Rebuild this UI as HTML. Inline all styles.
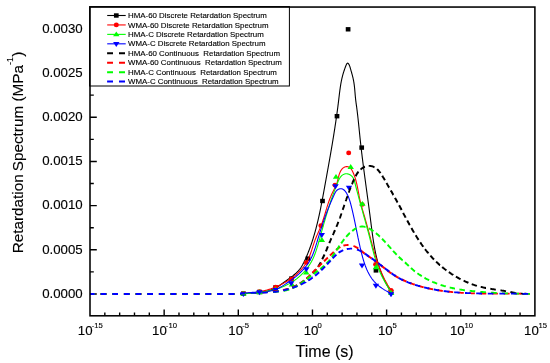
<!DOCTYPE html>
<html><head><meta charset="utf-8"><title>Retardation Spectrum</title>
<style>html,body{margin:0;padding:0;background:#fff}svg{display:block}text{font-family:"Liberation Sans",Arial,sans-serif;fill:#000;stroke:#000;stroke-width:0.12px}</style>
</head><body>
<svg width="550" height="363" viewBox="0 0 550 363">
<rect width="550" height="363" fill="#fff"/>
<defs><clipPath id="c"><rect x="90.00" y="7.05" width="444.90" height="308.75"/></clipPath></defs>
<path d="M104.83 315.80 V312.60 M119.66 315.80 V312.60 M134.49 315.80 V312.60 M149.32 315.80 V312.60 M164.15 315.80 V309.50 M178.98 315.80 V312.60 M193.81 315.80 V312.60 M208.64 315.80 V312.60 M223.47 315.80 V312.60 M238.30 315.80 V309.50 M253.13 315.80 V312.60 M267.96 315.80 V312.60 M282.79 315.80 V312.60 M297.62 315.80 V312.60 M312.45 315.80 V309.50 M327.28 315.80 V312.60 M342.11 315.80 V312.60 M356.94 315.80 V312.60 M371.77 315.80 V312.60 M386.60 315.80 V309.50 M401.43 315.80 V312.60 M416.26 315.80 V312.60 M431.09 315.80 V312.60 M445.92 315.80 V312.60 M460.75 315.80 V309.50 M475.58 315.80 V312.60 M490.41 315.80 V312.60 M505.24 315.80 V312.60 M520.07 315.80 V312.60 M90.00 294.00 H96.80 M90.00 271.91 H93.80 M90.00 249.81 H96.80 M90.00 227.72 H93.80 M90.00 205.63 H96.80 M90.00 183.54 H93.80 M90.00 161.44 H96.80 M90.00 139.35 H93.80 M90.00 117.26 H96.80 M90.00 95.17 H93.80 M90.00 73.07 H96.80 M90.00 50.98 H93.80 M90.00 28.89 H96.80" stroke="#000" stroke-width="1.4" fill="none"/>
<g clip-path="url(#c)">
<path d="M243.40 293.60 L244.21 293.51 L245.02 293.42 L245.84 293.34 L246.67 293.27 L247.50 293.19 L248.34 293.13 L249.19 293.06 L250.04 293.00 L250.89 292.94 L251.75 292.87 L252.61 292.81 L253.47 292.75 L254.34 292.68 L255.21 292.61 L256.08 292.54 L256.94 292.46 L257.81 292.38 L258.68 292.29 L259.55 292.20 L260.42 292.10 L261.28 291.99 L262.15 291.87 L263.01 291.74 L263.87 291.60 L264.72 291.45 L265.57 291.29 L266.41 291.12 L267.25 290.93 L268.08 290.73 L268.91 290.51 L269.73 290.27 L270.54 290.02 L271.35 289.76 L272.14 289.47 L272.93 289.17 L273.71 288.84 L274.48 288.50 L275.24 288.13 L275.98 287.74 L276.72 287.33 L277.45 286.90 L278.17 286.46 L278.88 286.00 L279.59 285.52 L280.29 285.04 L280.98 284.54 L281.68 284.04 L282.37 283.53 L283.06 283.01 L283.75 282.50 L284.44 281.98 L285.13 281.47 L285.83 280.96 L286.53 280.45 L287.23 279.94 L287.92 279.44 L288.62 278.93 L289.32 278.43 L290.01 277.92 L290.71 277.41 L291.39 276.90 L292.07 276.38 L292.75 275.86 L293.41 275.33 L294.07 274.79 L294.72 274.25 L295.36 273.69 L295.99 273.13 L296.60 272.56 L297.21 271.97 L297.79 271.38 L298.37 270.77 L298.92 270.14 L299.47 269.51 L299.99 268.85 L300.49 268.18 L300.98 267.49 L301.44 266.79 L301.89 266.07 L302.32 265.34 L302.74 264.59 L303.14 263.83 L303.54 263.07 L303.92 262.30 L304.29 261.52 L304.66 260.74 L305.02 259.95 L305.37 259.17 L305.72 258.38 L306.07 257.59 L306.41 256.80 L306.75 256.01 L307.08 255.22 L307.41 254.42 L307.73 253.63 L308.05 252.83 L308.37 252.04 L308.68 251.24 L308.99 250.44 L309.29 249.64 L309.59 248.84 L309.89 248.04 L310.18 247.23 L310.47 246.43 L310.76 245.63 L311.04 244.82 L311.31 244.01 L311.59 243.20 L311.86 242.40 L312.13 241.59 L312.39 240.78 L312.65 239.96 L312.91 239.15 L313.16 238.34 L313.41 237.52 L313.66 236.71 L313.90 235.89 L314.14 235.08 L314.38 234.26 L314.62 233.44 L314.85 232.62 L315.08 231.80 L315.31 230.98 L315.53 230.16 L315.75 229.34 L315.97 228.52 L316.18 227.69 L316.40 226.87 L316.61 226.05 L316.82 225.22 L317.02 224.40 L317.23 223.57 L317.43 222.74 L317.63 221.91 L317.83 221.09 L318.02 220.26 L318.21 219.43 L318.40 218.60 L318.59 217.77 L318.78 216.94 L318.97 216.11 L319.15 215.27 L319.33 214.44 L319.51 213.61 L319.69 212.78 L319.87 211.94 L320.04 211.11 L320.21 210.27 L320.39 209.44 L320.56 208.60 L320.73 207.77 L320.89 206.93 L321.06 206.10 L321.23 205.26 L321.39 204.42 L321.55 203.59 L321.72 202.75 L321.88 201.91 L322.04 201.07 L322.20 200.24 L322.36 199.40 L322.51 198.56 L322.67 197.72 L322.83 196.88 L322.98 196.04 L323.14 195.20 L323.29 194.36 L323.45 193.53 L323.60 192.69 L323.75 191.85 L323.91 191.01 L324.06 190.17 L324.21 189.33 L324.36 188.49 L324.52 187.65 L324.67 186.81 L324.82 185.97 L324.97 185.13 L325.13 184.29 L325.28 183.45 L325.43 182.61 L325.58 181.77 L325.74 180.93 L325.89 180.09 L326.04 179.25 L326.19 178.41 L326.34 177.57 L326.50 176.73 L326.65 175.89 L326.80 175.05 L326.95 174.21 L327.10 173.37 L327.25 172.53 L327.41 171.69 L327.56 170.85 L327.71 170.01 L327.86 169.17 L328.01 168.33 L328.16 167.50 L328.31 166.66 L328.46 165.82 L328.61 164.98 L328.76 164.14 L328.91 163.30 L329.06 162.46 L329.21 161.62 L329.36 160.78 L329.51 159.94 L329.65 159.10 L329.80 158.26 L329.95 157.42 L330.10 156.58 L330.24 155.74 L330.39 154.89 L330.54 154.05 L330.68 153.21 L330.83 152.37 L330.97 151.53 L331.12 150.69 L331.26 149.85 L331.40 149.01 L331.55 148.17 L331.69 147.33 L331.83 146.49 L331.98 145.65 L332.12 144.81 L332.26 143.97 L332.40 143.12 L332.54 142.28 L332.68 141.44 L332.82 140.60 L332.96 139.76 L333.09 138.92 L333.23 138.08 L333.37 137.23 L333.51 136.39 L333.64 135.55 L333.78 134.71 L333.91 133.87 L334.04 133.02 L334.18 132.18 L334.31 131.34 L334.44 130.50 L334.57 129.65 L334.70 128.81 L334.84 127.97 L334.96 127.13 L335.09 126.28 L335.22 125.44 L335.35 124.60 L335.47 123.75 L335.60 122.91 L335.73 122.07 L335.85 121.22 L335.97 120.38 L336.10 119.53 L336.22 118.69 L336.34 117.85 L336.46 117.00 L336.58 116.16 L336.70 115.31 L336.82 114.47 L336.93 113.62 L337.05 112.78 L337.16 111.93 L337.28 111.09 L337.39 110.24 L337.50 109.40 L337.62 108.55 L337.73 107.70 L337.84 106.86 L337.95 106.01 L338.05 105.17 L338.16 104.32 L338.27 103.47 L338.37 102.63 L338.48 101.78 L338.58 100.93 L338.68 100.08 L338.78 99.24 L338.88 98.39 L338.98 97.54 L339.08 96.69 L339.18 95.85 L339.28 95.00 L339.38 94.15 L339.49 93.30 L339.59 92.46 L339.70 91.61 L339.81 90.76 L339.92 89.92 L340.04 89.07 L340.16 88.23 L340.28 87.39 L340.40 86.54 L340.54 85.70 L340.67 84.86 L340.81 84.02 L340.96 83.18 L341.11 82.34 L341.27 81.51 L341.44 80.67 L341.61 79.84 L341.79 79.00 L341.98 78.17 L342.17 77.34 L342.38 76.51 L342.59 75.68 L342.81 74.86 L343.04 74.04 L343.28 73.21 L343.54 72.39 L343.80 71.57 L344.06 70.76 L344.34 69.95 L344.62 69.14 L344.91 68.35 L345.20 67.55 L345.49 66.77 L345.78 66.00 L346.09 65.21 L346.45 64.39 L346.92 63.57 L347.58 63.08 L348.19 63.41 L348.69 64.10 L349.11 64.83 L349.47 65.60 L349.79 66.40 L350.06 67.21 L350.31 68.04 L350.54 68.87 L350.77 69.70 L351.01 70.53 L351.24 71.35 L351.48 72.16 L351.71 72.98 L351.94 73.80 L352.16 74.62 L352.38 75.43 L352.59 76.26 L352.80 77.08 L352.99 77.91 L353.17 78.75 L353.35 79.58 L353.52 80.42 L353.67 81.27 L353.82 82.11 L353.96 82.96 L354.08 83.80 L354.20 84.65 L354.31 85.50 L354.41 86.34 L354.50 87.19 L354.59 88.04 L354.68 88.89 L354.75 89.74 L354.83 90.59 L354.90 91.44 L354.98 92.29 L355.05 93.14 L355.12 93.99 L355.19 94.84 L355.26 95.69 L355.34 96.54 L355.42 97.38 L355.51 98.23 L355.59 99.08 L355.69 99.93 L355.79 100.77 L355.90 101.62 L356.01 102.46 L356.13 103.31 L356.24 104.15 L356.36 105.00 L356.48 105.84 L356.60 106.69 L356.71 107.53 L356.82 108.38 L356.93 109.22 L357.04 110.07 L357.15 110.92 L357.25 111.77 L357.35 112.61 L357.45 113.46 L357.55 114.31 L357.65 115.16 L357.75 116.00 L357.85 116.85 L357.94 117.70 L358.04 118.55 L358.13 119.40 L358.22 120.25 L358.31 121.10 L358.40 121.95 L358.49 122.80 L358.58 123.65 L358.67 124.50 L358.76 125.35 L358.84 126.20 L358.93 127.05 L359.02 127.90 L359.10 128.75 L359.19 129.60 L359.27 130.45 L359.36 131.30 L359.45 132.14 L359.53 132.99 L359.62 133.84 L359.71 134.69 L359.79 135.54 L359.88 136.39 L359.97 137.24 L360.06 138.09 L360.15 138.94 L360.24 139.79 L360.33 140.63 L360.42 141.48 L360.51 142.33 L360.60 143.18 L360.70 144.03 L360.79 144.87 L360.89 145.72 L360.98 146.57 L361.08 147.41 L361.18 148.26 L361.27 149.11 L361.37 149.95 L361.47 150.80 L361.57 151.65 L361.67 152.49 L361.77 153.34 L361.88 154.18 L361.98 155.03 L362.08 155.87 L362.18 156.72 L362.29 157.56 L362.39 158.41 L362.50 159.25 L362.60 160.10 L362.71 160.94 L362.81 161.79 L362.92 162.63 L363.03 163.48 L363.14 164.32 L363.25 165.16 L363.35 166.01 L363.46 166.85 L363.57 167.70 L363.68 168.54 L363.79 169.39 L363.90 170.23 L364.01 171.07 L364.12 171.92 L364.24 172.76 L364.35 173.61 L364.46 174.45 L364.57 175.29 L364.68 176.14 L364.80 176.98 L364.91 177.82 L365.02 178.67 L365.14 179.51 L365.25 180.36 L365.37 181.20 L365.48 182.04 L365.59 182.89 L365.71 183.73 L365.82 184.58 L365.94 185.42 L366.05 186.26 L366.17 187.11 L366.28 187.95 L366.40 188.80 L366.51 189.64 L366.63 190.49 L366.74 191.33 L366.86 192.18 L366.97 193.02 L367.09 193.86 L367.20 194.71 L367.32 195.55 L367.43 196.40 L367.55 197.25 L367.66 198.09 L367.78 198.94 L367.89 199.78 L368.01 200.63 L368.12 201.47 L368.24 202.32 L368.35 203.17 L368.46 204.01 L368.58 204.86 L368.69 205.71 L368.80 206.55 L368.92 207.40 L369.03 208.25 L369.14 209.09 L369.26 209.94 L369.37 210.79 L369.48 211.64 L369.59 212.49 L369.70 213.33 L369.82 214.18 L369.93 215.03 L370.04 215.88 L370.15 216.73 L370.26 217.58 L370.37 218.43 L370.48 219.28 L370.58 220.13 L370.69 220.98 L370.80 221.83 L370.91 222.68 L371.02 223.53 L371.12 224.38 L371.23 225.24 L371.34 226.09 L371.45 226.94 L371.56 227.79 L371.67 228.64 L371.78 229.49 L371.89 230.34 L372.00 231.19 L372.11 232.04 L372.23 232.89 L372.34 233.74 L372.46 234.59 L372.58 235.44 L372.70 236.29 L372.82 237.14 L372.94 237.98 L373.07 238.83 L373.19 239.68 L373.32 240.52 L373.45 241.37 L373.59 242.21 L373.72 243.05 L373.86 243.90 L374.00 244.74 L374.15 245.58 L374.30 246.42 L374.45 247.26 L374.60 248.10 L374.76 248.93 L374.92 249.77 L375.08 250.60 L375.25 251.44 L375.42 252.27 L375.59 253.10 L375.77 253.93 L375.95 254.76 L376.14 255.59 L376.33 256.41 L376.52 257.24 L376.72 258.06 L376.92 258.88 L377.13 259.71 L377.34 260.52 L377.56 261.34 L377.78 262.16 L378.01 262.97 L378.24 263.78 L378.48 264.59 L378.73 265.40 L378.97 266.21 L379.23 267.01 L379.49 267.82 L379.76 268.62 L380.03 269.42 L380.31 270.21 L380.59 271.01 L380.88 271.80 L381.18 272.59 L381.48 273.38 L381.79 274.17 L382.11 274.95 L382.43 275.73 L382.76 276.51 L383.10 277.29 L383.44 278.07 L383.79 278.84 L384.15 279.61 L384.52 280.37 L384.89 281.14 L385.28 281.90 L385.67 282.66 L386.06 283.42 L386.47 284.17 L386.88 284.92 L387.30 285.67 L387.73 286.42 L388.17 287.16 L388.62 287.90 L389.08 288.64 L389.54 289.37 L390.01 290.10 L390.50 290.83 L390.99 291.56" stroke="#000000" stroke-width="1.1" fill="none" stroke-linejoin="round"/>
<rect x="241.05" y="291.40" width="4.70" height="4.40" fill="#000000"/><rect x="257.15" y="289.80" width="4.70" height="4.40" fill="#000000"/><rect x="273.25" y="285.30" width="4.70" height="4.40" fill="#000000"/><rect x="289.15" y="276.40" width="4.70" height="4.40" fill="#000000"/><rect x="305.65" y="256.40" width="4.70" height="4.40" fill="#000000"/><rect x="320.15" y="198.80" width="4.70" height="4.40" fill="#000000"/><rect x="334.65" y="114.00" width="4.70" height="4.40" fill="#000000"/><rect x="345.75" y="27.10" width="4.70" height="4.40" fill="#000000"/><rect x="359.35" y="145.40" width="4.70" height="4.40" fill="#000000"/><rect x="373.65" y="268.20" width="4.70" height="4.40" fill="#000000"/><rect x="388.65" y="289.60" width="4.70" height="4.40" fill="#000000"/>
<path d="M243.37 293.57 L243.91 293.55 L244.44 293.52 L244.97 293.50 L245.50 293.47 L246.03 293.44 L246.56 293.41 L247.09 293.37 L247.62 293.33 L248.15 293.29 L248.67 293.25 L249.20 293.21 L249.72 293.16 L250.25 293.11 L250.77 293.06 L251.30 293.00 L251.82 292.94 L252.34 292.88 L252.86 292.82 L253.38 292.75 L253.90 292.69 L254.42 292.62 L254.93 292.54 L255.45 292.47 L255.97 292.39 L256.48 292.31 L257.00 292.22 L257.51 292.14 L258.02 292.05 L258.53 291.96 L259.04 291.86 L259.55 291.76 L260.06 291.66 L260.57 291.56 L261.08 291.46 L261.58 291.35 L262.09 291.24 L262.59 291.12 L263.10 291.00 L263.60 290.88 L264.10 290.76 L264.60 290.64 L265.10 290.51 L265.60 290.38 L266.10 290.24 L266.60 290.11 L267.09 289.97 L267.59 289.82 L268.08 289.68 L268.58 289.53 L269.07 289.38 L269.56 289.22 L270.05 289.06 L270.54 288.90 L271.03 288.74 L271.51 288.57 L272.00 288.40 L272.49 288.23 L272.97 288.05 L273.45 287.87 L273.94 287.69 L274.42 287.50 L274.90 287.31 L275.38 287.12 L275.85 286.93 L276.33 286.73 L276.81 286.53 L277.28 286.32 L277.76 286.11 L278.23 285.90 L278.70 285.69 L279.17 285.47 L279.64 285.25 L280.11 285.02 L280.58 284.80 L281.04 284.57 L281.51 284.33 L281.97 284.09 L282.43 283.85 L282.89 283.61 L283.35 283.36 L283.81 283.11 L284.27 282.86 L284.73 282.60 L285.18 282.34 L285.64 282.07 L286.09 281.80 L286.54 281.53 L286.99 281.26 L287.44 280.98 L287.89 280.70 L288.34 280.41 L288.78 280.12 L289.22 279.83 L289.66 279.53 L290.10 279.24 L290.53 278.93 L290.97 278.63 L291.40 278.32 L291.83 278.01 L292.26 277.69 L292.68 277.37 L293.10 277.05 L293.52 276.72 L293.94 276.40 L294.35 276.06 L294.76 275.73 L295.17 275.39 L295.58 275.05 L295.98 274.70 L296.38 274.35 L296.77 274.00 L297.16 273.65 L297.55 273.29 L297.94 272.93 L298.32 272.56 L298.70 272.20 L299.07 271.83 L299.44 271.45 L299.81 271.07 L300.17 270.69 L300.53 270.31 L300.88 269.92 L301.23 269.53 L301.58 269.14 L301.92 268.75 L302.26 268.35 L302.59 267.94 L302.92 267.54 L303.24 267.13 L303.56 266.72 L303.87 266.30 L304.18 265.89 L304.49 265.46 L304.79 265.04 L305.08 264.61 L305.37 264.18 L305.65 263.75 L305.93 263.31 L306.20 262.88 L306.47 262.43 L306.73 261.99 L306.98 261.54 L307.23 261.09 L307.48 260.64 L307.71 260.18 L307.95 259.72 L308.17 259.26 L308.39 258.79 L308.61 258.32 L308.82 257.85 L309.03 257.38 L309.23 256.90 L309.43 256.43 L309.62 255.95 L309.81 255.47 L310.00 254.98 L310.18 254.50 L310.36 254.01 L310.54 253.52 L310.71 253.03 L310.88 252.54 L311.05 252.05 L311.22 251.56 L311.38 251.06 L311.55 250.57 L311.71 250.07 L311.87 249.58 L312.03 249.08 L312.19 248.58 L312.35 248.08 L312.51 247.59 L312.67 247.09 L312.83 246.59 L312.99 246.09 L313.15 245.59 L313.31 245.10 L313.47 244.60 L313.64 244.10 L313.80 243.61 L313.97 243.11 L314.14 242.62 L314.31 242.12 L314.48 241.63 L314.66 241.14 L314.83 240.65 L315.02 240.16 L315.20 239.67 L315.39 239.18 L315.58 238.70 L315.77 238.22 L315.97 237.73 L316.17 237.25 L316.37 236.77 L316.57 236.29 L316.78 235.81 L316.98 235.33 L317.19 234.85 L317.40 234.38 L317.61 233.90 L317.82 233.42 L318.03 232.94 L318.24 232.47 L318.45 231.99 L318.66 231.51 L318.87 231.04 L319.07 230.56 L319.28 230.08 L319.49 229.60 L319.69 229.12 L319.90 228.64 L320.10 228.16 L320.30 227.67 L320.50 227.19 L320.70 226.71 L320.89 226.22 L321.08 225.73 L321.27 225.24 L321.46 224.75 L321.64 224.26 L321.82 223.77 L322.00 223.27 L322.17 222.78 L322.35 222.28 L322.52 221.79 L322.69 221.29 L322.85 220.79 L323.02 220.29 L323.18 219.79 L323.35 219.29 L323.51 218.78 L323.67 218.28 L323.82 217.78 L323.98 217.27 L324.14 216.77 L324.29 216.27 L324.44 215.76 L324.60 215.26 L324.75 214.75 L324.90 214.24 L325.05 213.74 L325.20 213.23 L325.35 212.73 L325.50 212.22 L325.65 211.72 L325.80 211.21 L325.95 210.71 L326.10 210.20 L326.25 209.70 L326.40 209.19 L326.55 208.69 L326.71 208.19 L326.86 207.68 L327.01 207.18 L327.17 206.68 L327.32 206.18 L327.48 205.68 L327.63 205.18 L327.79 204.68 L327.95 204.18 L328.11 203.69 L328.28 203.19 L328.44 202.70 L328.61 202.21 L328.78 201.72 L328.95 201.23 L329.12 200.74 L329.29 200.25 L329.47 199.76 L329.65 199.28 L329.83 198.80 L330.01 198.31 L330.20 197.83 L330.39 197.36 L330.58 196.88 L330.78 196.41 L330.97 195.93 L331.18 195.46 L331.38 195.00 L331.59 194.53 L331.80 194.07 L332.01 193.60 L332.23 193.15 L332.45 192.69 L332.68 192.23 L332.91 191.78 L333.14 191.33 L333.37 190.88 L333.61 190.43 L333.84 189.98 L334.08 189.53 L334.31 189.08 L334.55 188.62 L334.78 188.17 L335.01 187.71 L335.23 187.25 L335.45 186.79 L335.67 186.32 L335.88 185.85 L336.08 185.37 L336.28 184.89 L336.47 184.40 L336.65 183.91 L336.82 183.41 L336.99 182.90 L337.14 182.39 L337.29 181.87 L337.43 181.34 L337.57 180.82 L337.70 180.29 L337.84 179.75 L337.97 179.22 L338.09 178.68 L338.22 178.15 L338.35 177.61 L338.49 177.08 L338.62 176.55 L338.76 176.02 L338.91 175.49 L339.06 174.97 L339.22 174.46 L339.39 173.95 L339.57 173.44 L339.75 172.95 L339.95 172.46 L340.17 171.98 L340.39 171.51 L340.64 171.05 L340.89 170.61 L341.17 170.17 L341.46 169.75 L341.77 169.34 L342.10 168.95 L342.45 168.57 L342.82 168.22 L343.20 167.90 L343.61 167.60 L344.03 167.35 L344.47 167.13 L344.92 166.95 L345.38 166.81 L345.85 166.71 L346.32 166.65 L346.80 166.64 L347.27 166.66 L347.73 166.73 L348.19 166.83 L348.63 166.98 L349.06 167.17 L349.47 167.41 L349.85 167.68 L350.22 167.99 L350.57 168.34 L350.91 168.72 L351.22 169.13 L351.52 169.56 L351.81 170.01 L352.09 170.49 L352.35 170.97 L352.60 171.48 L352.84 171.98 L353.07 172.50 L353.30 173.02 L353.52 173.54 L353.73 174.05 L353.93 174.57 L354.13 175.09 L354.32 175.60 L354.51 176.12 L354.69 176.63 L354.87 177.15 L355.04 177.66 L355.21 178.18 L355.37 178.69 L355.52 179.21 L355.67 179.72 L355.82 180.23 L355.96 180.75 L356.10 181.26 L356.23 181.77 L356.37 182.28 L356.49 182.79 L356.62 183.30 L356.74 183.82 L356.85 184.33 L356.97 184.84 L357.08 185.35 L357.19 185.86 L357.30 186.37 L357.40 186.87 L357.50 187.38 L357.60 187.89 L357.70 188.40 L357.80 188.91 L357.90 189.42 L357.99 189.92 L358.09 190.43 L358.18 190.94 L358.28 191.44 L358.37 191.95 L358.46 192.46 L358.55 192.96 L358.65 193.47 L358.74 193.97 L358.83 194.48 L358.93 194.98 L359.02 195.49 L359.12 195.99 L359.21 196.49 L359.31 197.00 L359.41 197.50 L359.51 198.00 L359.62 198.51 L359.72 199.01 L359.83 199.51 L359.94 200.01 L360.05 200.52 L360.17 201.02 L360.28 201.52 L360.40 202.02 L360.52 202.52 L360.65 203.02 L360.77 203.52 L360.90 204.02 L361.03 204.52 L361.16 205.02 L361.30 205.53 L361.43 206.03 L361.57 206.53 L361.71 207.03 L361.84 207.53 L361.99 208.03 L362.13 208.53 L362.27 209.03 L362.41 209.52 L362.56 210.02 L362.70 210.52 L362.85 211.02 L363.00 211.52 L363.15 212.02 L363.29 212.52 L363.44 213.02 L363.59 213.52 L363.74 214.03 L363.89 214.53 L364.04 215.03 L364.19 215.53 L364.34 216.03 L364.49 216.53 L364.64 217.03 L364.79 217.53 L364.94 218.03 L365.09 218.53 L365.23 219.04 L365.38 219.54 L365.53 220.04 L365.67 220.54 L365.82 221.05 L365.96 221.55 L366.10 222.05 L366.25 222.56 L366.39 223.06 L366.53 223.56 L366.67 224.07 L366.81 224.57 L366.95 225.08 L367.09 225.58 L367.23 226.09 L367.36 226.59 L367.50 227.10 L367.64 227.60 L367.78 228.11 L367.91 228.61 L368.05 229.12 L368.18 229.62 L368.32 230.13 L368.45 230.63 L368.59 231.14 L368.72 231.65 L368.86 232.15 L368.99 232.66 L369.12 233.16 L369.26 233.67 L369.39 234.18 L369.53 234.68 L369.66 235.19 L369.79 235.69 L369.93 236.20 L370.06 236.70 L370.19 237.21 L370.33 237.72 L370.46 238.22 L370.59 238.73 L370.73 239.23 L370.86 239.74 L371.00 240.24 L371.13 240.75 L371.27 241.25 L371.40 241.76 L371.54 242.26 L371.67 242.77 L371.81 243.27 L371.95 243.77 L372.08 244.28 L372.22 244.78 L372.36 245.29 L372.50 245.79 L372.63 246.29 L372.77 246.79 L372.91 247.30 L373.05 247.80 L373.20 248.30 L373.34 248.80 L373.48 249.30 L373.62 249.81 L373.77 250.31 L373.91 250.81 L374.06 251.31 L374.20 251.81 L374.35 252.31 L374.50 252.81 L374.65 253.30 L374.80 253.80 L374.95 254.30 L375.10 254.80 L375.25 255.30 L375.40 255.79 L375.56 256.29 L375.71 256.78 L375.87 257.28 L376.03 257.78 L376.19 258.27 L376.35 258.76 L376.51 259.26 L376.67 259.75 L376.84 260.24 L377.00 260.74 L377.17 261.23 L377.33 261.72 L377.50 262.21 L377.67 262.70 L377.84 263.19 L378.02 263.68 L378.19 264.17 L378.37 264.66 L378.55 265.14 L378.72 265.63 L378.90 266.12 L379.09 266.60 L379.27 267.09 L379.46 267.57 L379.64 268.05 L379.83 268.54 L380.02 269.02 L380.21 269.50 L380.41 269.98 L380.60 270.46 L380.80 270.94 L381.00 271.42 L381.20 271.90 L381.40 272.38 L381.61 272.85 L381.81 273.33 L382.02 273.80 L382.23 274.28 L382.44 274.75 L382.66 275.22 L382.88 275.70 L383.09 276.17 L383.32 276.64 L383.54 277.11 L383.76 277.58 L383.99 278.04 L384.22 278.51 L384.45 278.98 L384.69 279.44 L384.92 279.91 L385.16 280.37 L385.40 280.83 L385.65 281.30 L385.89 281.76 L386.14 282.22 L386.39 282.68 L386.64 283.13 L386.90 283.59 L387.16 284.05 L387.42 284.50 L387.68 284.96 L387.95 285.41 L388.21 285.86 L388.48 286.31 L388.76 286.76 L389.03 287.21 L389.31 287.66 L389.60 288.11 L389.88 288.55 L390.17 289.00 L390.46 289.44 L390.75 289.88 L391.05 290.33" stroke="#ff0000" stroke-width="1.1" fill="none" stroke-linejoin="round"/>
<ellipse cx="243.40" cy="293.60" rx="2.5" ry="2.35" fill="#ff0000"/><ellipse cx="259.50" cy="291.60" rx="2.5" ry="2.35" fill="#ff0000"/><ellipse cx="275.60" cy="287.20" rx="2.5" ry="2.35" fill="#ff0000"/><ellipse cx="291.40" cy="279.20" rx="2.5" ry="2.35" fill="#ff0000"/><ellipse cx="306.30" cy="262.50" rx="2.5" ry="2.35" fill="#ff0000"/><ellipse cx="320.90" cy="225.70" rx="2.5" ry="2.35" fill="#ff0000"/><ellipse cx="335.00" cy="185.20" rx="2.5" ry="2.35" fill="#ff0000"/><ellipse cx="348.70" cy="152.90" rx="2.5" ry="2.35" fill="#ff0000"/><ellipse cx="362.20" cy="204.50" rx="2.5" ry="2.35" fill="#ff0000"/><ellipse cx="375.60" cy="264.40" rx="2.5" ry="2.35" fill="#ff0000"/><ellipse cx="391.00" cy="290.30" rx="2.5" ry="2.35" fill="#ff0000"/>
<path d="M243.41 293.79 L243.91 293.75 L244.40 293.72 L244.90 293.68 L245.40 293.65 L245.90 293.61 L246.40 293.58 L246.90 293.54 L247.40 293.51 L247.91 293.47 L248.41 293.43 L248.91 293.40 L249.42 293.36 L249.92 293.32 L250.43 293.28 L250.94 293.24 L251.44 293.19 L251.95 293.15 L252.46 293.11 L252.96 293.06 L253.47 293.01 L253.98 292.97 L254.49 292.92 L255.00 292.87 L255.50 292.82 L256.01 292.77 L256.52 292.71 L257.03 292.66 L257.54 292.60 L258.05 292.54 L258.56 292.48 L259.07 292.42 L259.58 292.36 L260.09 292.30 L260.60 292.23 L261.10 292.16 L261.61 292.09 L262.12 292.02 L262.63 291.95 L263.14 291.87 L263.65 291.80 L264.15 291.72 L264.66 291.63 L265.17 291.55 L265.67 291.47 L266.18 291.38 L266.68 291.29 L267.19 291.19 L267.69 291.10 L268.19 291.00 L268.70 290.90 L269.20 290.80 L269.70 290.70 L270.20 290.59 L270.70 290.48 L271.20 290.36 L271.70 290.25 L272.20 290.13 L272.69 290.01 L273.19 289.89 L273.68 289.76 L274.18 289.63 L274.67 289.50 L275.16 289.36 L275.65 289.22 L276.14 289.08 L276.63 288.93 L277.12 288.79 L277.60 288.63 L278.09 288.48 L278.57 288.32 L279.05 288.16 L279.53 287.99 L280.01 287.82 L280.49 287.65 L280.97 287.47 L281.44 287.29 L281.92 287.11 L282.39 286.92 L282.86 286.73 L283.33 286.54 L283.80 286.34 L284.26 286.14 L284.73 285.93 L285.19 285.72 L285.65 285.50 L286.11 285.29 L286.57 285.06 L287.02 284.84 L287.48 284.60 L287.93 284.37 L288.38 284.13 L288.83 283.89 L289.27 283.64 L289.72 283.39 L290.16 283.14 L290.60 282.88 L291.04 282.62 L291.47 282.35 L291.90 282.08 L292.33 281.81 L292.76 281.53 L293.19 281.25 L293.61 280.97 L294.03 280.68 L294.45 280.39 L294.87 280.09 L295.28 279.80 L295.69 279.49 L296.10 279.19 L296.50 278.88 L296.91 278.57 L297.31 278.25 L297.71 277.93 L298.10 277.61 L298.49 277.28 L298.88 276.95 L299.27 276.62 L299.65 276.28 L300.03 275.94 L300.41 275.60 L300.78 275.25 L301.15 274.90 L301.52 274.55 L301.89 274.19 L302.25 273.83 L302.60 273.47 L302.96 273.11 L303.31 272.74 L303.66 272.37 L304.00 271.99 L304.35 271.61 L304.68 271.23 L305.02 270.85 L305.35 270.46 L305.68 270.07 L306.00 269.68 L306.32 269.28 L306.64 268.88 L306.95 268.48 L307.26 268.08 L307.56 267.67 L307.87 267.26 L308.16 266.85 L308.46 266.43 L308.75 266.02 L309.03 265.59 L309.31 265.17 L309.59 264.74 L309.86 264.32 L310.13 263.88 L310.40 263.45 L310.66 263.01 L310.92 262.57 L311.17 262.13 L311.42 261.69 L311.66 261.24 L311.90 260.79 L312.14 260.34 L312.37 259.89 L312.59 259.43 L312.82 258.97 L313.03 258.51 L313.25 258.05 L313.46 257.58 L313.67 257.11 L313.87 256.64 L314.07 256.17 L314.27 255.70 L314.46 255.23 L314.65 254.75 L314.83 254.27 L315.02 253.79 L315.20 253.31 L315.38 252.83 L315.55 252.35 L315.72 251.86 L315.89 251.38 L316.06 250.89 L316.22 250.40 L316.39 249.91 L316.55 249.42 L316.70 248.93 L316.86 248.44 L317.02 247.95 L317.17 247.46 L317.32 246.96 L317.47 246.47 L317.62 245.97 L317.76 245.48 L317.91 244.98 L318.05 244.49 L318.19 243.99 L318.34 243.50 L318.48 243.00 L318.62 242.51 L318.76 242.01 L318.90 241.52 L319.03 241.02 L319.17 240.53 L319.31 240.03 L319.45 239.54 L319.58 239.04 L319.72 238.55 L319.86 238.06 L319.99 237.56 L320.13 237.07 L320.27 236.58 L320.40 236.09 L320.54 235.60 L320.68 235.11 L320.81 234.62 L320.95 234.13 L321.08 233.64 L321.22 233.15 L321.36 232.66 L321.49 232.17 L321.63 231.68 L321.76 231.19 L321.90 230.71 L322.04 230.22 L322.17 229.73 L322.31 229.24 L322.44 228.76 L322.58 228.27 L322.72 227.79 L322.85 227.30 L322.99 226.81 L323.13 226.33 L323.26 225.84 L323.40 225.36 L323.54 224.87 L323.67 224.39 L323.81 223.90 L323.95 223.42 L324.09 222.94 L324.22 222.45 L324.36 221.97 L324.50 221.49 L324.64 221.00 L324.78 220.52 L324.92 220.04 L325.06 219.55 L325.20 219.07 L325.34 218.59 L325.48 218.10 L325.62 217.62 L325.76 217.14 L325.91 216.66 L326.05 216.17 L326.19 215.69 L326.34 215.21 L326.48 214.73 L326.62 214.25 L326.77 213.76 L326.91 213.28 L327.06 212.80 L327.20 212.32 L327.35 211.84 L327.50 211.35 L327.65 210.87 L327.79 210.39 L327.94 209.91 L328.09 209.43 L328.24 208.95 L328.39 208.46 L328.54 207.98 L328.70 207.50 L328.85 207.02 L329.00 206.54 L329.16 206.05 L329.31 205.57 L329.47 205.09 L329.62 204.61 L329.78 204.12 L329.94 203.64 L330.09 203.16 L330.25 202.68 L330.41 202.19 L330.57 201.71 L330.73 201.23 L330.90 200.74 L331.06 200.26 L331.22 199.78 L331.39 199.29 L331.55 198.81 L331.72 198.32 L331.89 197.84 L332.05 197.35 L332.22 196.87 L332.39 196.38 L332.56 195.90 L332.73 195.41 L332.91 194.93 L333.08 194.44 L333.26 193.96 L333.43 193.47 L333.61 192.98 L333.79 192.50 L333.96 192.01 L334.14 191.52 L334.32 191.03 L334.51 190.55 L334.69 190.06 L334.87 189.57 L335.06 189.08 L335.24 188.59 L335.43 188.10 L335.62 187.61 L335.81 187.12 L336.00 186.63 L336.19 186.14 L336.39 185.65 L336.58 185.15 L336.78 184.66 L336.97 184.17 L337.17 183.68 L337.37 183.18 L337.57 182.69 L337.78 182.20 L337.98 181.71 L338.19 181.22 L338.40 180.73 L338.62 180.26 L338.85 179.78 L339.08 179.32 L339.32 178.87 L339.57 178.42 L339.83 177.99 L340.10 177.57 L340.39 177.17 L340.68 176.78 L340.99 176.41 L341.31 176.06 L341.65 175.72 L342.00 175.41 L342.37 175.12 L342.76 174.85 L343.16 174.61 L343.59 174.39 L344.04 174.20 L344.50 174.04 L344.97 173.91 L345.46 173.82 L345.96 173.76 L346.46 173.75 L346.96 173.78 L347.47 173.85 L347.97 173.96 L348.47 174.10 L348.96 174.28 L349.44 174.50 L349.90 174.74 L350.36 175.01 L350.80 175.31 L351.21 175.64 L351.61 175.98 L351.98 176.35 L352.33 176.73 L352.64 177.13 L352.93 177.55 L353.19 177.98 L353.43 178.42 L353.65 178.87 L353.85 179.33 L354.03 179.80 L354.20 180.28 L354.36 180.77 L354.50 181.26 L354.64 181.75 L354.77 182.25 L354.89 182.75 L355.02 183.25 L355.14 183.76 L355.27 184.26 L355.39 184.76 L355.52 185.26 L355.64 185.76 L355.77 186.26 L355.89 186.75 L356.02 187.25 L356.15 187.75 L356.28 188.25 L356.40 188.75 L356.53 189.25 L356.66 189.74 L356.79 190.24 L356.92 190.74 L357.05 191.23 L357.18 191.73 L357.31 192.22 L357.44 192.72 L357.57 193.21 L357.70 193.71 L357.83 194.20 L357.96 194.70 L358.10 195.19 L358.23 195.69 L358.36 196.18 L358.49 196.67 L358.62 197.17 L358.76 197.66 L358.89 198.15 L359.02 198.65 L359.16 199.14 L359.29 199.63 L359.42 200.12 L359.56 200.62 L359.69 201.11 L359.83 201.60 L359.96 202.09 L360.10 202.58 L360.23 203.07 L360.36 203.56 L360.50 204.05 L360.63 204.55 L360.77 205.04 L360.91 205.53 L361.04 206.02 L361.18 206.51 L361.31 207.00 L361.45 207.49 L361.58 207.98 L361.72 208.47 L361.86 208.96 L361.99 209.44 L362.13 209.93 L362.26 210.42 L362.40 210.91 L362.54 211.40 L362.67 211.89 L362.81 212.38 L362.94 212.87 L363.08 213.36 L363.22 213.85 L363.35 214.34 L363.49 214.83 L363.62 215.31 L363.76 215.80 L363.90 216.29 L364.03 216.78 L364.17 217.27 L364.30 217.76 L364.44 218.25 L364.58 218.74 L364.71 219.22 L364.85 219.71 L364.98 220.20 L365.12 220.69 L365.25 221.18 L365.39 221.67 L365.52 222.16 L365.66 222.65 L365.79 223.14 L365.93 223.62 L366.06 224.11 L366.20 224.60 L366.33 225.09 L366.46 225.58 L366.60 226.07 L366.73 226.56 L366.87 227.05 L367.00 227.54 L367.13 228.03 L367.26 228.52 L367.40 229.01 L367.53 229.50 L367.66 229.99 L367.79 230.48 L367.93 230.97 L368.06 231.46 L368.19 231.95 L368.32 232.45 L368.45 232.94 L368.58 233.43 L368.71 233.92 L368.84 234.41 L368.97 234.90 L369.10 235.40 L369.23 235.89 L369.36 236.38 L369.49 236.87 L369.61 237.37 L369.74 237.86 L369.87 238.35 L370.00 238.85 L370.12 239.34 L370.25 239.83 L370.38 240.33 L370.50 240.82 L370.63 241.32 L370.75 241.81 L370.88 242.31 L371.00 242.80 L371.13 243.30 L371.25 243.79 L371.38 244.29 L371.50 244.78 L371.62 245.28 L371.75 245.77 L371.87 246.27 L372.00 246.77 L372.12 247.26 L372.25 247.76 L372.38 248.25 L372.50 248.75 L372.63 249.24 L372.76 249.74 L372.89 250.23 L373.01 250.73 L373.14 251.22 L373.27 251.71 L373.40 252.21 L373.53 252.70 L373.67 253.20 L373.80 253.69 L373.93 254.18 L374.07 254.67 L374.20 255.17 L374.34 255.66 L374.48 256.15 L374.62 256.64 L374.76 257.13 L374.90 257.62 L375.04 258.11 L375.19 258.60 L375.33 259.09 L375.48 259.57 L375.63 260.06 L375.78 260.55 L375.93 261.03 L376.08 261.52 L376.23 262.00 L376.39 262.49 L376.55 262.97 L376.71 263.45 L376.87 263.93 L377.03 264.42 L377.20 264.90 L377.36 265.38 L377.53 265.85 L377.70 266.33 L377.88 266.81 L378.05 267.29 L378.23 267.76 L378.41 268.23 L378.59 268.71 L378.77 269.18 L378.96 269.65 L379.15 270.12 L379.34 270.59 L379.53 271.06 L379.73 271.53 L379.93 271.99 L380.13 272.46 L380.33 272.92 L380.54 273.39 L380.75 273.85 L380.96 274.31 L381.18 274.77 L381.40 275.22 L381.62 275.68 L381.84 276.14 L382.07 276.59 L382.30 277.04 L382.53 277.50 L382.77 277.95 L383.01 278.40 L383.25 278.84 L383.49 279.29 L383.73 279.74 L383.98 280.18 L384.23 280.63 L384.48 281.07 L384.73 281.52 L384.98 281.96 L385.24 282.40 L385.50 282.84 L385.75 283.28 L386.01 283.72 L386.27 284.16 L386.53 284.60 L386.79 285.04 L387.05 285.48 L387.31 285.92 L387.58 286.36 L387.84 286.80 L388.10 287.23 L388.36 287.67 L388.63 288.11 L388.89 288.55 L389.15 288.98 L389.41 289.42 L389.67 289.86 L389.93 290.30 L390.19 290.74 L390.44 291.18 L390.70 291.62 L390.96 292.06 L391.21 292.50" stroke="#00ff00" stroke-width="1.1" fill="none" stroke-linejoin="round"/>
<path d="M240.20 295.70 L246.60 295.70 L243.40 290.80 Z" fill="#00ff00"/><path d="M256.30 294.20 L262.70 294.20 L259.50 289.30 Z" fill="#00ff00"/><path d="M272.40 291.40 L278.80 291.40 L275.60 286.50 Z" fill="#00ff00"/><path d="M288.70 286.60 L295.10 286.60 L291.90 281.70 Z" fill="#00ff00"/><path d="M303.10 274.50 L309.50 274.50 L306.30 269.60 Z" fill="#00ff00"/><path d="M318.70 242.00 L325.10 242.00 L321.90 237.10 Z" fill="#00ff00"/><path d="M332.80 178.80 L339.20 178.80 L336.00 173.90 Z" fill="#00ff00"/><path d="M347.50 168.90 L353.90 168.90 L350.70 164.00 Z" fill="#00ff00"/><path d="M359.20 205.80 L365.60 205.80 L362.40 200.90 Z" fill="#00ff00"/><path d="M372.70 269.20 L379.10 269.20 L375.90 264.30 Z" fill="#00ff00"/><path d="M388.00 294.90 L394.40 294.90 L391.20 290.00 Z" fill="#00ff00"/>
<path d="M243.40 293.80 L243.84 293.68 L244.28 293.57 L244.72 293.46 L245.17 293.36 L245.62 293.27 L246.07 293.18 L246.52 293.10 L246.97 293.02 L247.43 292.95 L247.88 292.88 L248.34 292.81 L248.80 292.75 L249.26 292.69 L249.72 292.64 L250.19 292.59 L250.65 292.54 L251.12 292.50 L251.59 292.46 L252.05 292.42 L252.52 292.38 L252.99 292.35 L253.46 292.32 L253.94 292.29 L254.41 292.26 L254.88 292.23 L255.36 292.21 L255.83 292.19 L256.30 292.16 L256.78 292.14 L257.25 292.12 L257.73 292.10 L258.20 292.08 L258.68 292.06 L259.15 292.04 L259.63 292.02 L260.10 291.99 L260.58 291.97 L261.05 291.95 L261.53 291.92 L262.00 291.90 L262.47 291.87 L262.95 291.84 L263.42 291.81 L263.89 291.77 L264.36 291.74 L264.83 291.70 L265.30 291.65 L265.77 291.61 L266.24 291.56 L266.70 291.51 L267.17 291.46 L267.63 291.40 L268.09 291.34 L268.55 291.27 L269.01 291.20 L269.47 291.12 L269.93 291.04 L270.38 290.96 L270.83 290.87 L271.28 290.77 L271.73 290.67 L272.18 290.57 L272.63 290.45 L273.07 290.34 L273.51 290.21 L273.95 290.08 L274.39 289.94 L274.82 289.80 L275.25 289.65 L275.68 289.49 L276.11 289.32 L276.54 289.15 L276.96 288.97 L277.38 288.78 L277.80 288.59 L278.21 288.39 L278.63 288.18 L279.04 287.97 L279.45 287.76 L279.86 287.54 L280.26 287.32 L280.67 287.09 L281.07 286.85 L281.48 286.62 L281.88 286.38 L282.28 286.13 L282.68 285.89 L283.08 285.64 L283.47 285.39 L283.87 285.13 L284.27 284.88 L284.66 284.62 L285.06 284.36 L285.45 284.10 L285.84 283.84 L286.24 283.58 L286.63 283.32 L287.02 283.05 L287.41 282.79 L287.80 282.52 L288.19 282.25 L288.58 281.99 L288.97 281.72 L289.36 281.45 L289.74 281.17 L290.13 280.90 L290.51 280.62 L290.90 280.35 L291.28 280.07 L291.66 279.79 L292.04 279.51 L292.41 279.23 L292.79 278.94 L293.17 278.66 L293.54 278.37 L293.91 278.08 L294.28 277.79 L294.65 277.50 L295.02 277.21 L295.38 276.91 L295.75 276.62 L296.11 276.32 L296.47 276.02 L296.83 275.72 L297.18 275.42 L297.54 275.11 L297.89 274.80 L298.24 274.50 L298.59 274.19 L298.93 273.87 L299.28 273.56 L299.62 273.24 L299.96 272.92 L300.29 272.60 L300.63 272.28 L300.96 271.96 L301.29 271.63 L301.62 271.30 L301.94 270.97 L302.26 270.64 L302.58 270.31 L302.89 269.97 L303.21 269.63 L303.52 269.29 L303.82 268.95 L304.13 268.60 L304.43 268.25 L304.73 267.90 L305.02 267.55 L305.31 267.20 L305.60 266.84 L305.89 266.48 L306.17 266.12 L306.45 265.76 L306.72 265.39 L307.00 265.02 L307.27 264.65 L307.53 264.27 L307.79 263.90 L308.05 263.52 L308.30 263.14 L308.55 262.75 L308.80 262.37 L309.04 261.98 L309.28 261.58 L309.51 261.19 L309.75 260.79 L309.97 260.39 L310.19 259.99 L310.41 259.58 L310.63 259.17 L310.84 258.76 L311.05 258.35 L311.25 257.93 L311.45 257.51 L311.65 257.09 L311.84 256.67 L312.04 256.25 L312.22 255.82 L312.41 255.39 L312.59 254.96 L312.77 254.53 L312.95 254.10 L313.12 253.66 L313.29 253.22 L313.46 252.78 L313.63 252.34 L313.79 251.90 L313.95 251.46 L314.11 251.02 L314.27 250.57 L314.43 250.12 L314.58 249.68 L314.74 249.23 L314.89 248.78 L315.04 248.33 L315.18 247.88 L315.33 247.43 L315.47 246.97 L315.62 246.52 L315.76 246.07 L315.90 245.61 L316.04 245.16 L316.18 244.70 L316.32 244.25 L316.46 243.80 L316.60 243.34 L316.74 242.89 L316.87 242.43 L317.01 241.98 L317.15 241.52 L317.28 241.07 L317.42 240.61 L317.56 240.16 L317.69 239.71 L317.83 239.25 L317.97 238.80 L318.10 238.35 L318.24 237.90 L318.38 237.45 L318.52 237.00 L318.65 236.55 L318.79 236.10 L318.93 235.65 L319.07 235.20 L319.21 234.75 L319.34 234.30 L319.48 233.85 L319.62 233.41 L319.76 232.96 L319.90 232.51 L320.04 232.07 L320.18 231.62 L320.32 231.18 L320.46 230.73 L320.61 230.29 L320.75 229.84 L320.89 229.40 L321.03 228.96 L321.18 228.51 L321.32 228.07 L321.46 227.63 L321.61 227.19 L321.75 226.75 L321.90 226.30 L322.04 225.86 L322.19 225.42 L322.33 224.98 L322.48 224.54 L322.63 224.10 L322.77 223.66 L322.92 223.22 L323.07 222.78 L323.22 222.35 L323.37 221.91 L323.52 221.47 L323.67 221.03 L323.82 220.59 L323.97 220.16 L324.12 219.72 L324.28 219.28 L324.43 218.85 L324.58 218.41 L324.74 217.97 L324.89 217.54 L325.05 217.10 L325.20 216.67 L325.36 216.23 L325.52 215.80 L325.68 215.36 L325.84 214.93 L326.00 214.49 L326.16 214.06 L326.32 213.63 L326.48 213.19 L326.64 212.76 L326.80 212.32 L326.97 211.89 L327.13 211.46 L327.30 211.02 L327.46 210.59 L327.63 210.16 L327.80 209.73 L327.97 209.29 L328.13 208.86 L328.30 208.43 L328.47 208.00 L328.65 207.57 L328.82 207.13 L328.99 206.70 L329.17 206.27 L329.34 205.84 L329.52 205.41 L329.69 204.98 L329.87 204.55 L330.05 204.11 L330.23 203.68 L330.41 203.25 L330.59 202.82 L330.77 202.39 L330.95 201.96 L331.14 201.53 L331.32 201.10 L331.51 200.67 L331.70 200.24 L331.88 199.81 L332.07 199.38 L332.26 198.95 L332.45 198.51 L332.64 198.08 L332.84 197.65 L333.03 197.22 L333.23 196.79 L333.42 196.36 L333.62 195.93 L333.82 195.50 L334.02 195.07 L334.22 194.64 L334.42 194.21 L334.62 193.78 L334.83 193.35 L335.04 192.92 L335.26 192.50 L335.49 192.09 L335.73 191.70 L335.99 191.31 L336.27 190.94 L336.58 190.59 L336.91 190.27 L337.27 189.96 L337.66 189.69 L338.07 189.44 L338.51 189.23 L338.97 189.05 L339.43 188.90 L339.90 188.79 L340.37 188.73 L340.83 188.71 L341.27 188.73 L341.70 188.80 L342.11 188.90 L342.51 189.05 L342.90 189.23 L343.27 189.44 L343.63 189.69 L343.98 189.96 L344.32 190.26 L344.64 190.58 L344.96 190.93 L345.26 191.29 L345.55 191.67 L345.83 192.07 L346.11 192.48 L346.37 192.90 L346.62 193.32 L346.86 193.75 L347.10 194.19 L347.33 194.62 L347.55 195.05 L347.76 195.49 L347.96 195.93 L348.16 196.37 L348.35 196.81 L348.53 197.25 L348.71 197.69 L348.88 198.13 L349.05 198.58 L349.21 199.02 L349.36 199.47 L349.51 199.91 L349.66 200.36 L349.80 200.81 L349.94 201.26 L350.07 201.70 L350.21 202.15 L350.33 202.60 L350.46 203.05 L350.58 203.50 L350.70 203.95 L350.82 204.40 L350.94 204.85 L351.05 205.30 L351.17 205.75 L351.28 206.20 L351.40 206.65 L351.51 207.11 L351.62 207.56 L351.73 208.01 L351.84 208.46 L351.95 208.91 L352.06 209.36 L352.17 209.81 L352.27 210.26 L352.38 210.71 L352.48 211.16 L352.59 211.62 L352.69 212.07 L352.80 212.52 L352.90 212.97 L353.00 213.42 L353.10 213.87 L353.20 214.32 L353.30 214.78 L353.40 215.23 L353.50 215.68 L353.60 216.13 L353.70 216.58 L353.80 217.03 L353.90 217.49 L353.99 217.94 L354.09 218.39 L354.19 218.84 L354.28 219.30 L354.38 219.75 L354.47 220.20 L354.57 220.65 L354.66 221.10 L354.76 221.56 L354.85 222.01 L354.94 222.46 L355.04 222.92 L355.13 223.37 L355.22 223.82 L355.32 224.27 L355.41 224.73 L355.50 225.18 L355.59 225.63 L355.68 226.09 L355.78 226.54 L355.87 226.99 L355.96 227.45 L356.05 227.90 L356.14 228.35 L356.24 228.81 L356.33 229.26 L356.42 229.71 L356.51 230.17 L356.60 230.62 L356.69 231.07 L356.79 231.53 L356.88 231.98 L356.97 232.44 L357.06 232.89 L357.15 233.34 L357.25 233.80 L357.34 234.25 L357.43 234.71 L357.52 235.16 L357.62 235.62 L357.71 236.07 L357.80 236.53 L357.90 236.98 L357.99 237.44 L358.09 237.89 L358.18 238.35 L358.28 238.80 L358.37 239.26 L358.47 239.71 L358.56 240.17 L358.66 240.62 L358.76 241.08 L358.86 241.53 L358.95 241.99 L359.05 242.45 L359.15 242.90 L359.25 243.36 L359.35 243.81 L359.45 244.27 L359.55 244.73 L359.65 245.18 L359.76 245.64 L359.86 246.10 L359.96 246.55 L360.07 247.01 L360.17 247.47 L360.28 247.92 L360.38 248.38 L360.49 248.84 L360.60 249.29 L360.71 249.75 L360.82 250.21 L360.93 250.67 L361.04 251.12 L361.15 251.58 L361.26 252.04 L361.37 252.50 L361.49 252.95 L361.60 253.41 L361.72 253.87 L361.83 254.33 L361.95 254.79 L362.07 255.24 L362.19 255.70 L362.31 256.16 L362.44 256.62 L362.56 257.07 L362.69 257.53 L362.81 257.98 L362.94 258.44 L363.07 258.89 L363.20 259.35 L363.34 259.80 L363.47 260.25 L363.61 260.71 L363.75 261.16 L363.89 261.61 L364.03 262.06 L364.18 262.51 L364.32 262.95 L364.47 263.40 L364.62 263.85 L364.78 264.29 L364.93 264.73 L365.09 265.18 L365.25 265.62 L365.41 266.06 L365.58 266.49 L365.75 266.93 L365.92 267.37 L366.09 267.80 L366.27 268.23 L366.45 268.66 L366.63 269.09 L366.81 269.52 L367.00 269.94 L367.19 270.37 L367.38 270.79 L367.58 271.21 L367.78 271.62 L367.98 272.04 L368.19 272.45 L368.40 272.86 L368.61 273.27 L368.83 273.68 L369.05 274.08 L369.28 274.48 L369.50 274.88 L369.74 275.28 L369.97 275.68 L370.21 276.07 L370.45 276.46 L370.70 276.84 L370.95 277.23 L371.20 277.61 L371.46 277.99 L371.73 278.36 L371.99 278.74 L372.26 279.11 L372.54 279.47 L372.82 279.84 L373.10 280.20 L373.39 280.56 L373.69 280.91 L373.99 281.26 L374.29 281.61 L374.60 281.95 L374.91 282.29 L375.23 282.63 L375.55 282.97 L375.87 283.30 L376.21 283.62 L376.54 283.95 L376.88 284.27 L377.23 284.58 L377.58 284.89 L377.94 285.20 L378.30 285.51 L378.67 285.81 L379.04 286.11 L379.41 286.40 L379.79 286.69 L380.17 286.98 L380.55 287.26 L380.94 287.54 L381.33 287.82 L381.72 288.09 L382.12 288.36 L382.52 288.63 L382.92 288.89 L383.32 289.15 L383.72 289.40 L384.12 289.66 L384.53 289.91 L384.94 290.15 L385.34 290.40 L385.75 290.64 L386.16 290.87 L386.57 291.11 L386.97 291.34 L387.38 291.57 L387.79 291.79 L388.19 292.01 L388.60 292.23 L389.00 292.45 L389.40 292.66 L389.80 292.87 L390.20 293.08 L390.60 293.29 L390.99 293.49" stroke="#0000ff" stroke-width="1.1" fill="none" stroke-linejoin="round"/>
<path d="M240.20 292.10 L246.60 292.10 L243.40 297.10 Z" fill="#0000ff"/><path d="M256.30 290.30 L262.70 290.30 L259.50 295.30 Z" fill="#0000ff"/><path d="M272.40 288.00 L278.80 288.00 L275.60 293.00 Z" fill="#0000ff"/><path d="M288.00 281.30 L294.40 281.30 L291.20 286.30 Z" fill="#0000ff"/><path d="M303.10 267.20 L309.50 267.20 L306.30 272.20 Z" fill="#0000ff"/><path d="M318.60 232.90 L325.00 232.90 L321.80 237.90 Z" fill="#0000ff"/><path d="M332.30 184.20 L338.70 184.20 L335.50 189.20 Z" fill="#0000ff"/><path d="M345.80 185.70 L352.20 185.70 L349.00 190.70 Z" fill="#0000ff"/><path d="M358.80 263.40 L365.20 263.40 L362.00 268.40 Z" fill="#0000ff"/><path d="M372.70 283.70 L379.10 283.70 L375.90 288.70 Z" fill="#0000ff"/><path d="M387.80 292.30 L394.20 292.30 L391.00 297.30 Z" fill="#0000ff"/>
<path d="M88.9 294.0 89.7 294.0 90.5 294.0 91.3 294.0 92.1 294.0 92.9 294.0 93.7 294.0 94.5 294.0 94.7 294.0M100.6 294.0 101.4 294.0 102.2 294.0 103.0 294.0 103.8 294.0 104.6 294.0 105.4 294.0 106.2 294.0 106.4 294.0M112.3 294.0 113.1 294.0 113.9 294.0 114.7 294.0 115.5 294.0 116.3 294.0 117.1 294.0 117.9 294.0 118.0 294.0M123.9 294.0 124.7 294.0 125.5 294.0 126.3 294.0 127.1 294.0 127.9 294.0 128.7 294.0 129.5 294.0 129.7 294.0M135.6 294.0 136.4 294.0 137.2 294.0 138.0 294.0 138.8 294.0 139.6 294.0 140.4 294.0 141.2 294.0 141.3 294.0M147.2 294.0 148.0 294.0 148.8 294.0 149.6 294.0 150.4 294.0 151.2 294.0 152.0 294.0 152.8 294.0 153.0 294.0M158.9 294.0 159.7 294.0 160.5 294.0 161.3 294.0 162.1 294.0 162.9 294.0 163.7 294.0 164.5 294.0 164.6 294.0M170.5 294.0 171.3 294.0 172.1 294.0 172.9 294.0 173.7 294.0 174.5 294.0 175.3 294.0 176.1 294.0 176.3 294.0M182.2 294.0 183.0 294.0 183.8 294.0 184.6 294.0 185.4 294.0 186.2 294.0 187.0 294.0 187.8 294.0 187.9 294.0M193.8 294.0 194.6 294.0 195.4 294.0 196.2 294.0 197.0 294.0 197.8 294.0 198.6 294.0 199.4 294.0 199.6 294.0M205.5 294.0 206.3 294.0 207.1 294.0 207.9 294.0 208.7 294.0 209.5 294.0 210.3 294.0 211.1 294.0 211.2 294.0M217.1 294.0 217.9 294.0 218.7 294.0 219.5 294.0 220.3 294.0 221.1 294.0 221.9 294.0 222.7 294.0 222.9 294.0M228.8 294.0 229.6 294.0 230.4 294.0 231.2 294.0 232.0 294.0 232.8 294.0 233.6 294.0 234.4 294.0 234.5 294.0M240.3 293.9 241.0 293.9 241.8 293.8 242.5 293.8 243.2 293.8 243.9 293.7 244.6 293.7 245.3 293.6 246.0 293.6M251.3 293.2 252.0 293.1 252.7 293.0 253.4 293.0 254.1 292.9 254.8 292.9 255.5 292.8 256.2 292.7 256.9 292.7M262.0 292.3 262.7 292.3 263.4 292.2 264.1 292.2 264.8 292.1 265.5 292.1 266.3 292.1 267.0 292.0 267.7 292.0M520.5 293.7 521.2 293.7 521.9 293.7 522.6 293.8 523.3 293.8 524.1 293.8 524.8 293.7 525.5 293.7 526.2 293.6 526.4 293.6" stroke="#000000" stroke-width="1.8" fill="none"/><path d="M273.0 291.6 273.7 291.5 274.4 291.5 275.1 291.4 275.8 291.3 276.5 291.3 277.2 291.2 277.9 291.1 278.6 291.0M283.2 290.2 283.8 290.1 284.4 290.0 285.0 289.8 285.6 289.7 286.3 289.5 286.9 289.4 287.5 289.2 288.1 289.0 288.6 288.8M336.4 226.9 336.6 226.3 336.8 225.8 337.0 225.3 337.3 224.8 337.5 224.2 337.7 223.7 337.9 223.2 338.1 222.7 338.3 222.1 338.4 221.9M339.7 218.5 339.9 218.0 340.1 217.5 340.3 216.9 340.5 216.3 340.7 215.7 340.9 215.1 341.1 214.5 341.3 214.0 341.5 213.4M342.7 209.9 342.9 209.3 343.1 208.7 343.3 208.2 343.5 207.6 343.7 207.0 343.9 206.4 344.1 205.8 344.3 205.2 344.5 204.8M345.7 201.2 345.9 200.6 346.1 200.1 346.3 199.5 346.5 198.9 346.7 198.3 346.9 197.7 347.1 197.1 347.3 196.5 347.4 196.1M348.7 192.6 348.9 192.1 349.1 191.5 349.3 191.0 349.5 190.5 349.7 189.9 349.9 189.4 350.1 188.9 350.3 188.3 350.5 187.8 350.6 187.5M368.7 165.9 369.3 165.9 370.0 165.9 370.7 166.0 371.4 166.1 372.0 166.3 372.6 166.4 373.1 166.6 373.6 166.8 374.1 167.1 374.5 167.3M471.7 284.1 472.3 284.3 472.8 284.5 473.3 284.7 473.9 284.9 474.5 285.1 475.1 285.3 475.7 285.5 476.3 285.6 476.9 285.8M480.7 286.9 481.3 287.0 481.9 287.2 482.5 287.3 483.1 287.4 483.7 287.6 484.3 287.7 485.0 287.8 485.6 288.0 486.0 288.0M490.3 288.8 491.0 288.9 491.6 289.0 492.2 289.1 492.8 289.2 493.5 289.3 494.1 289.4 494.7 289.5 495.3 289.6 495.8 289.7M500.5 290.3 501.1 290.4 501.7 290.5 502.4 290.6 503.0 290.7 503.6 290.8 504.2 290.9 504.8 291.0 505.5 291.1 506.0 291.2M510.4 292.0 511.1 292.2 511.7 292.3 512.3 292.4 512.9 292.5 513.5 292.6 514.1 292.7 514.7 292.9 515.3 293.0 515.8 293.0" stroke="#000000" stroke-width="1.9" fill="none"/><path d="M292.1 287.5 292.7 287.3 293.2 287.1 293.7 286.9 294.2 286.6 294.7 286.4 295.2 286.1 295.7 285.9 296.2 285.6 296.7 285.4 297.1 285.2M299.9 283.5 300.3 283.2 300.8 282.9 301.3 282.6 301.8 282.3 302.2 282.0 302.7 281.7 303.2 281.3 303.6 281.0 304.1 280.7 304.3 280.5M306.6 278.7 307.0 278.4 307.4 278.0 307.8 277.7 308.2 277.4 308.6 277.0 309.0 276.7 309.4 276.3 309.8 276.0 310.1 275.6 310.5 275.3 310.6 275.2M312.7 273.2 313.1 272.8 313.4 272.4 313.8 272.0 314.1 271.7 314.5 271.3 314.9 270.8 315.3 270.4 315.6 270.0 316.0 269.5 316.2 269.2M318.0 266.8 318.3 266.3 318.7 265.8 319.0 265.4 319.2 264.9 319.5 264.4 319.8 263.9 320.1 263.4 320.4 262.9 320.6 262.4 320.7 262.2M322.2 259.3 322.5 258.8 322.7 258.3 323.0 257.8 323.2 257.3 323.4 256.8 323.7 256.3 323.9 255.8 324.1 255.3 324.4 254.7 324.5 254.5M325.9 251.3 326.1 250.8 326.3 250.3 326.5 249.8 326.7 249.2 327.0 248.7 327.2 248.2 327.4 247.7 327.6 247.1 327.8 246.6 327.9 246.4M329.3 243.1 329.5 242.6 329.8 242.0 330.0 241.5 330.2 241.0 330.4 240.5 330.6 239.9 330.9 239.4 331.1 238.9 331.3 238.4 331.4 238.2M332.8 235.0 333.1 234.5 333.3 234.0 333.5 233.4 333.8 232.9 334.0 232.4 334.2 231.9 334.5 231.3 334.7 230.8 334.9 230.3 335.0 230.1M351.9 184.2 352.2 183.6 352.4 183.1 352.6 182.6 352.8 182.0 353.1 181.5 353.3 180.9 353.5 180.4 353.8 179.9 354.0 179.3 354.1 179.2M355.6 176.2 355.9 175.7 356.1 175.2 356.4 174.7 356.7 174.2 357.0 173.7 357.3 173.2 357.7 172.8 358.0 172.3 358.3 171.8 358.5 171.6M360.5 169.5 360.9 169.2 361.4 168.8 361.8 168.5 362.3 168.2 362.7 167.9 363.2 167.6 363.7 167.3 364.2 167.1 364.8 166.8 364.9 166.8M377.1 169.1 377.5 169.5 377.8 169.8 378.2 170.2 378.5 170.6 378.9 171.0 379.2 171.4 379.5 171.9 379.9 172.3 380.2 172.7 380.5 173.1M382.2 175.7 382.4 176.1 382.7 176.6 383.0 177.0 383.3 177.5 383.6 178.0 383.9 178.5 384.2 179.0 384.5 179.5 384.8 180.0 384.9 180.2M386.5 183.0 386.8 183.5 387.1 183.9 387.4 184.4 387.6 184.9 387.9 185.4 388.2 185.9 388.5 186.4 388.8 186.9 389.0 187.4 389.2 187.6M390.7 190.4 391.0 190.9 391.3 191.3 391.6 191.8 391.9 192.3 392.1 192.8 392.4 193.3 392.7 193.8 393.0 194.3 393.2 194.8 393.4 195.0M395.0 197.8 395.2 198.3 395.5 198.8 395.8 199.3 396.1 199.8 396.3 200.3 396.6 200.8 396.9 201.3 397.2 201.8 397.4 202.3 397.6 202.5M399.1 205.3 399.4 205.8 399.6 206.3 399.9 206.8 400.2 207.3 400.4 207.8 400.7 208.3 401.0 208.8 401.2 209.3 401.5 209.8 401.6 210.0M403.2 212.9 403.4 213.4 403.7 213.9 404.0 214.4 404.2 214.9 404.5 215.4 404.8 215.9 405.0 216.4 405.3 216.9 405.6 217.4 405.7 217.6M407.2 220.5 407.5 221.0 407.8 221.5 408.0 222.0 408.3 222.5 408.6 223.0 408.9 223.5 409.1 224.0 409.4 224.5 409.7 225.0 409.8 225.1M411.4 228.0 411.7 228.5 412.0 229.0 412.2 229.5 412.5 230.0 412.8 230.5 413.1 231.0 413.4 231.5 413.7 232.0 414.0 232.4 414.1 232.6M415.7 235.3 416.0 235.8 416.3 236.3 416.6 236.8 416.9 237.2 417.2 237.7 417.5 238.2 417.8 238.7 418.1 239.2 418.4 239.6 418.6 239.9M420.2 242.4 420.6 242.9 420.9 243.4 421.2 243.8 421.5 244.3 421.8 244.7 422.2 245.2 422.5 245.7 422.8 246.1 423.2 246.6 423.3 246.8M425.1 249.2 425.4 249.6 425.8 250.1 426.1 250.5 426.5 251.0 426.8 251.4 427.2 251.9 427.5 252.3 427.9 252.7 428.3 253.2 428.4 253.4M430.4 255.6 430.8 256.0 431.1 256.5 431.5 256.9 431.9 257.3 432.3 257.7 432.6 258.1 433.0 258.5 433.3 258.8 433.7 259.2 434.0 259.5M436.1 261.6 436.4 261.9 436.8 262.3 437.2 262.6 437.6 263.0 438.0 263.3 438.3 263.7 438.7 264.0 439.1 264.4 439.5 264.7 439.9 265.1 440.0 265.1M442.2 267.0 442.6 267.4 443.1 267.8 443.5 268.1 444.0 268.5 444.4 268.8 444.9 269.2 445.3 269.5 445.8 269.8 446.2 270.2 446.4 270.3M448.8 272.1 449.3 272.4 449.7 272.7 450.2 273.0 450.7 273.3 451.2 273.7 451.6 274.0 452.1 274.3 452.6 274.6 453.1 274.9 453.2 275.0M455.9 276.6 456.4 276.9 456.9 277.2 457.4 277.5 457.9 277.8 458.4 278.0 458.9 278.3 459.4 278.6 459.9 278.8 460.4 279.1 460.6 279.2M463.6 280.7 464.1 280.9 464.6 281.1 465.1 281.4 465.6 281.6 466.1 281.8 466.7 282.1 467.2 282.3 467.7 282.5 468.2 282.7 468.4 282.8" stroke="#000000" stroke-width="2.0" fill="none"/>
<path d="M88.9 294.0 89.7 294.0 90.5 294.0 91.3 294.0 92.1 294.0 92.9 294.0 93.7 294.0 94.5 294.0 94.7 294.0M100.6 294.0 101.4 294.0 102.2 294.0 103.0 294.0 103.8 294.0 104.6 294.0 105.4 294.0 106.2 294.0 106.4 294.0M112.3 294.0 113.1 294.0 113.9 294.0 114.7 294.0 115.5 294.0 116.3 294.0 117.1 294.0 117.9 294.0 118.0 294.0M123.9 294.0 124.7 294.0 125.5 294.0 126.3 294.0 127.1 294.0 127.9 294.0 128.7 294.0 129.5 294.0 129.7 294.0M135.6 294.0 136.4 294.0 137.2 294.0 138.0 294.0 138.8 294.0 139.6 294.0 140.4 294.0 141.2 294.0 141.3 294.0M147.2 294.0 148.0 294.0 148.8 294.0 149.6 294.0 150.4 294.0 151.2 294.0 152.0 294.0 152.8 294.0 153.0 294.0M158.9 294.0 159.7 294.0 160.5 294.0 161.3 294.0 162.1 294.0 162.9 294.0 163.7 294.0 164.5 294.0 164.6 294.0M170.5 294.0 171.3 294.0 172.1 294.0 172.9 294.0 173.7 294.0 174.5 294.0 175.3 294.0 176.1 294.0 176.3 294.0M182.2 294.0 183.0 294.0 183.8 294.0 184.6 294.0 185.4 294.0 186.2 294.0 187.0 294.0 187.8 294.0 187.9 294.0M193.8 294.0 194.6 294.0 195.4 294.0 196.2 294.0 197.0 294.0 197.8 294.0 198.6 294.0 199.4 294.0 199.6 294.0M205.5 294.0 206.3 294.0 207.1 294.0 207.9 294.0 208.7 294.0 209.5 294.0 210.3 294.0 211.1 294.0 211.2 294.0M217.1 294.0 217.9 294.0 218.7 294.0 219.5 294.0 220.3 294.0 221.1 294.0 221.9 294.0 222.7 294.0 222.9 294.0M228.8 294.0 229.6 294.0 230.4 294.0 231.2 294.0 232.0 294.0 232.8 294.0 233.6 294.0 234.4 294.0 234.5 294.0M240.1 293.9 240.9 293.8 241.6 293.7 242.3 293.7 243.0 293.6 243.7 293.6 244.4 293.5 245.1 293.5 245.8 293.4M251.1 293.1 251.8 293.1 252.5 293.0 253.2 293.0 254.0 293.0 254.7 292.9 255.4 292.9 256.1 292.8 256.8 292.8M262.1 292.5 262.8 292.4 263.5 292.4 264.2 292.3 265.0 292.3 265.7 292.2 266.4 292.2 267.1 292.1 267.8 292.0M458.2 292.6 458.9 292.6 459.7 292.7 460.4 292.7 461.1 292.8 461.8 292.8 462.5 292.8 463.2 292.9 463.8 292.9M469.3 293.2 470.0 293.2 470.7 293.2 471.4 293.3 472.2 293.3 472.9 293.3 473.6 293.3 474.3 293.3 474.9 293.4M480.7 293.5 481.4 293.5 482.1 293.5 482.8 293.5 483.5 293.5 484.2 293.5 485.0 293.5 485.7 293.5 486.3 293.5M492.1 293.6 492.8 293.6 493.6 293.6 494.3 293.6 495.0 293.6 495.7 293.6 496.4 293.6 497.1 293.6 497.9 293.6 497.9 293.6M503.9 293.6 504.6 293.6 505.3 293.6 506.0 293.6 506.7 293.6 507.4 293.6 508.1 293.6 508.9 293.6 509.6 293.6M515.4 293.6 516.2 293.6 516.9 293.6 517.6 293.6 518.3 293.7 519.0 293.7 519.7 293.7 520.4 293.7 521.1 293.7M526.9 293.8 527.6 293.9 528.3 293.9 529.0 293.9 529.7 293.9 530.0 293.9" stroke="#ff0000" stroke-width="1.8" fill="none"/><path d="M272.9 291.6 273.6 291.5 274.3 291.4 275.0 291.3 275.6 291.2 276.2 291.2 276.8 291.1 277.4 291.0 278.0 290.9 278.4 290.8M283.0 290.1 283.6 289.9 284.2 289.8 284.8 289.7 285.4 289.6 286.0 289.4 286.6 289.3 287.2 289.1 287.8 289.0 288.4 288.8 288.4 288.8M343.4 245.7 344.0 245.5 344.6 245.4 345.2 245.2 345.8 245.1 346.5 245.1 347.2 245.0 347.9 245.0 348.5 245.0M409.7 282.8 410.2 283.1 410.8 283.3 411.4 283.5 411.9 283.7 412.5 283.9 413.1 284.1 413.7 284.3 414.3 284.5 414.8 284.7M418.4 285.8 419.0 286.0 419.6 286.2 420.2 286.3 420.8 286.5 421.4 286.6 422.0 286.8 422.5 287.0 423.1 287.1 423.7 287.2M427.7 288.2 428.3 288.3 428.9 288.5 429.5 288.6 430.0 288.7 430.6 288.9 431.2 289.0 431.8 289.1 432.4 289.2 433.0 289.3M437.4 290.1 438.0 290.2 438.6 290.3 439.2 290.4 439.8 290.5 440.4 290.6 441.0 290.7 441.6 290.8 442.2 290.9 442.8 291.0M447.6 291.6 448.3 291.6 449.0 291.7 449.7 291.8 450.4 291.9 451.1 291.9 451.8 292.0 452.5 292.1 453.2 292.1" stroke="#ff0000" stroke-width="1.9" fill="none"/><path d="M292.1 287.6 292.7 287.4 293.3 287.2 293.8 286.9 294.4 286.7 294.9 286.5 295.5 286.2 296.0 286.0 296.5 285.8 296.9 285.5 297.2 285.4M300.0 283.8 300.4 283.5 300.9 283.2 301.3 282.9 301.8 282.6 302.2 282.3 302.6 282.0 303.0 281.7 303.5 281.3 303.9 281.0 304.3 280.7M306.5 278.7 306.9 278.3 307.3 277.9 307.7 277.5 308.1 277.2 308.5 276.8 308.9 276.4 309.3 276.0 309.7 275.6 310.0 275.2 310.3 274.9M312.4 272.8 312.7 272.5 313.1 272.1 313.5 271.7 313.9 271.3 314.3 270.9 314.6 270.5 315.0 270.1 315.4 269.8 315.8 269.4 316.1 269.1M318.2 267.0 318.5 266.6 318.9 266.3 319.3 265.9 319.7 265.5 320.0 265.1 320.4 264.8 320.8 264.4 321.2 264.0 321.5 263.7 321.9 263.3M324.0 261.2 324.4 260.9 324.8 260.5 325.2 260.1 325.6 259.8 325.9 259.4 326.3 259.0 326.7 258.7 327.1 258.3 327.5 257.9 327.9 257.6M330.0 255.5 330.4 255.1 330.8 254.8 331.2 254.4 331.6 254.0 332.0 253.6 332.4 253.3 332.8 252.9 333.2 252.5 333.6 252.1 333.8 251.9M336.0 249.9 336.4 249.6 336.9 249.2 337.3 248.9 337.7 248.6 338.2 248.3 338.6 247.9 339.1 247.7 339.5 247.4 340.0 247.1 340.3 246.9M353.5 245.9 354.0 246.1 354.6 246.3 355.1 246.6 355.5 246.8 356.0 247.1 356.4 247.3 356.9 247.6 357.4 247.9 357.8 248.2 358.2 248.6M360.6 250.4 361.0 250.7 361.4 251.1 361.9 251.4 362.3 251.7 362.7 252.1 363.2 252.4 363.6 252.7 364.0 253.1 364.5 253.4 364.8 253.6M367.3 255.4 367.7 255.7 368.1 256.0 368.6 256.3 369.0 256.6 369.5 256.9 369.9 257.2 370.3 257.5 370.8 257.8 371.2 258.1 371.6 258.4M374.1 260.1 374.6 260.5 375.0 260.8 375.4 261.1 375.8 261.4 376.3 261.7 376.7 262.0 377.1 262.3 377.6 262.7 378.0 263.0 378.4 263.3M380.8 265.2 381.2 265.5 381.6 265.9 382.0 266.2 382.4 266.6 382.9 266.9 383.3 267.2 383.7 267.6 384.1 267.9 384.5 268.2 384.9 268.5M387.2 270.4 387.7 270.7 388.1 271.0 388.5 271.4 389.0 271.7 389.4 272.0 389.8 272.3 390.3 272.6 390.7 272.9 391.1 273.2 391.5 273.5M394.1 275.2 394.5 275.4 395.0 275.7 395.4 276.0 395.9 276.3 396.3 276.5 396.8 276.8 397.3 277.1 397.7 277.3 398.2 277.6 398.7 277.8M401.6 279.3 402.1 279.6 402.5 279.8 403.0 280.0 403.5 280.3 404.0 280.5 404.5 280.7 405.0 280.9 405.5 281.1 405.9 281.3 406.4 281.5" stroke="#ff0000" stroke-width="2.0" fill="none"/>
<path d="M88.9 294.0 89.7 294.0 90.5 294.0 91.3 294.0 92.1 294.0 92.9 294.0 93.7 294.0 94.5 294.0 94.7 294.0M100.6 294.0 101.4 294.0 102.2 294.0 103.0 294.0 103.8 294.0 104.6 294.0 105.4 294.0 106.2 294.0 106.4 294.0M112.3 294.0 113.1 294.0 113.9 294.0 114.7 294.0 115.5 294.0 116.3 294.0 117.1 294.0 117.9 294.0 118.0 294.0M123.9 294.0 124.7 294.0 125.5 294.0 126.3 294.0 127.1 294.0 127.9 294.0 128.7 294.0 129.5 294.0 129.7 294.0M135.6 294.0 136.4 294.0 137.2 294.0 138.0 294.0 138.8 294.0 139.6 294.0 140.4 294.0 141.2 294.0 141.3 294.0M147.2 294.0 148.0 294.0 148.8 294.0 149.6 294.0 150.4 294.0 151.2 294.0 152.0 294.0 152.8 294.0 153.0 294.0M158.9 294.0 159.7 294.0 160.5 294.0 161.3 294.0 162.1 294.0 162.9 294.0 163.7 294.0 164.5 294.0 164.6 294.0M170.5 294.0 171.3 294.0 172.1 294.0 172.9 294.0 173.7 294.0 174.5 294.0 175.3 294.0 176.1 294.0 176.3 294.0M182.2 294.0 183.0 294.0 183.8 294.0 184.6 294.0 185.4 294.0 186.2 294.0 187.0 294.0 187.8 294.0 187.9 294.0M193.8 294.0 194.6 294.0 195.4 294.0 196.2 294.0 197.0 294.0 197.8 294.0 198.6 294.0 199.4 294.0 199.6 294.0M205.5 294.0 206.3 294.0 207.1 294.0 207.9 294.0 208.7 294.0 209.5 294.0 210.3 294.0 211.1 294.0 211.2 294.0M217.1 294.0 217.9 294.0 218.7 294.0 219.4 294.0 220.2 294.0 221.0 294.0 221.8 294.0 222.6 294.0 222.8 294.0M228.7 294.0 229.5 294.0 230.3 294.0 231.1 294.0 231.9 294.0 232.7 294.0 233.5 294.0 234.3 294.0 234.5 294.0M240.3 293.9 241.1 293.9 241.9 293.9 242.6 293.9 243.4 293.8 244.1 293.8 244.9 293.8 245.5 293.7 246.1 293.7M251.2 293.2 251.9 293.1 252.5 293.1 253.1 293.0 253.8 293.0 254.4 292.9 255.0 292.8 255.6 292.8 256.3 292.7 256.8 292.7M262.0 292.3 262.7 292.3 263.5 292.3 264.2 292.2 265.0 292.2 265.8 292.2 266.6 292.1 267.3 292.1 267.6 292.1M273.2 291.9 273.9 291.9 274.5 291.8 275.2 291.8 275.9 291.8 276.5 291.7 277.2 291.7 277.8 291.6 278.5 291.5 279.0 291.5M359.6 226.8 360.2 226.7 360.8 226.6 361.5 226.5 362.2 226.5 362.9 226.5 363.6 226.6 364.2 226.7 364.8 226.8 365.4 227.0 365.5 227.0M480.3 291.8 481.0 291.9 481.6 291.9 482.3 292.0 482.9 292.0 483.6 292.1 484.2 292.1 484.8 292.2 485.5 292.2 485.9 292.2M491.1 292.6 491.8 292.6 492.5 292.7 493.2 292.7 494.0 292.8 494.7 292.8 495.5 292.9 496.2 292.9 496.8 292.9M502.2 293.2 502.9 293.2 503.7 293.3 504.4 293.3 505.2 293.3 505.9 293.4 506.7 293.4 507.4 293.4 507.9 293.4M513.5 293.6 514.2 293.6 515.0 293.7 515.7 293.7 516.5 293.7 517.2 293.7 518.0 293.7 518.7 293.7 519.1 293.7M524.9 293.8 525.6 293.8 526.4 293.8 527.2 293.8 527.9 293.8 528.7 293.8 529.4 293.8 530.0 293.8" stroke="#00ff00" stroke-width="1.8" fill="none"/><path d="M283.8 290.8 284.5 290.7 285.1 290.6 285.7 290.4 286.3 290.3 286.9 290.1 287.6 289.9 288.2 289.8 288.8 289.6 289.2 289.4M432.2 281.6 432.7 281.9 433.2 282.1 433.8 282.3 434.3 282.5 434.8 282.7 435.3 283.0 435.9 283.2 436.4 283.4 436.9 283.6 437.2 283.7M440.6 284.9 441.1 285.1 441.7 285.2 442.2 285.4 442.7 285.6 443.3 285.7 443.8 285.9 444.4 286.1 445.0 286.2 445.6 286.4 445.8 286.5M449.7 287.5 450.3 287.6 451.0 287.8 451.6 287.9 452.2 288.0 452.9 288.2 453.5 288.3 454.1 288.4 454.8 288.6 455.0 288.6M459.4 289.4 460.0 289.5 460.7 289.6 461.3 289.7 461.9 289.8 462.6 289.9 463.2 290.0 463.9 290.1 464.5 290.2 464.9 290.2M469.7 290.8 470.3 290.9 470.9 290.9 471.6 291.0 472.2 291.1 472.9 291.1 473.5 291.2 474.2 291.3 474.8 291.3 475.2 291.4" stroke="#00ff00" stroke-width="1.9" fill="none"/><path d="M292.7 288.1 293.2 287.8 293.7 287.6 294.2 287.4 294.7 287.1 295.2 286.8 295.7 286.6 296.2 286.3 296.7 286.0 297.2 285.8 297.5 285.6M300.2 283.9 300.7 283.6 301.1 283.3 301.6 282.9 302.1 282.6 302.5 282.3 303.0 282.0 303.5 281.6 303.9 281.3 304.4 281.0 304.6 280.8M307.0 279.0 307.4 278.7 307.8 278.4 308.2 278.1 308.6 277.8 309.0 277.5 309.4 277.2 309.8 276.9 310.2 276.5 310.6 276.2 311.0 275.9 311.2 275.8M313.6 274.0 314.0 273.7 314.4 273.4 314.8 273.1 315.2 272.8 315.6 272.5 316.0 272.2 316.5 271.9 316.9 271.5 317.4 271.2 317.8 270.8M320.2 269.0 320.6 268.7 321.1 268.3 321.5 268.0 322.0 267.6 322.4 267.2 322.8 266.9 323.2 266.5 323.7 266.1 324.1 265.8 324.3 265.6M326.4 263.5 326.8 263.1 327.2 262.7 327.6 262.3 328.0 261.9 328.3 261.5 328.7 261.1 329.1 260.6 329.4 260.2 329.8 259.8 329.9 259.6M331.8 257.2 332.1 256.8 332.4 256.3 332.8 255.8 333.1 255.4 333.4 254.9 333.7 254.4 334.1 254.0 334.4 253.5 334.7 253.0 334.8 252.9M336.5 250.3 336.8 249.8 337.1 249.4 337.5 248.9 337.8 248.4 338.1 247.9 338.4 247.5 338.7 247.0 339.0 246.5 339.3 246.0 339.5 245.9M341.2 243.3 341.5 242.9 341.8 242.4 342.2 241.9 342.5 241.5 342.8 241.0 343.2 240.6 343.5 240.1 343.9 239.7 344.2 239.2 344.3 239.1M346.2 236.8 346.6 236.3 347.0 235.9 347.4 235.5 347.7 235.1 348.1 234.7 348.5 234.3 348.9 233.9 349.3 233.5 349.7 233.1 349.9 233.0M352.2 231.0 352.6 230.7 353.0 230.4 353.4 230.1 353.8 229.8 354.2 229.5 354.6 229.2 355.1 228.9 355.6 228.6 356.1 228.4 356.5 228.1M368.9 228.4 369.5 228.7 370.0 229.0 370.5 229.3 371.0 229.6 371.4 229.8 371.8 230.1 372.3 230.4 372.7 230.7 373.1 231.0 373.5 231.3M375.9 233.1 376.3 233.4 376.7 233.8 377.1 234.1 377.5 234.4 377.9 234.8 378.2 235.1 378.6 235.4 379.0 235.8 379.4 236.1 379.7 236.5 379.9 236.6M382.0 238.7 382.3 239.0 382.7 239.4 383.0 239.8 383.4 240.1 383.7 240.5 384.1 240.9 384.4 241.2 384.8 241.7 385.2 242.1 385.6 242.5 385.6 242.5M387.6 244.7 388.0 245.1 388.3 245.5 388.7 246.0 389.1 246.4 389.5 246.8 389.8 247.2 390.2 247.6 390.6 248.1 391.0 248.5 391.1 248.7M393.1 250.8 393.5 251.3 393.8 251.7 394.2 252.1 394.6 252.5 395.0 252.9 395.4 253.3 395.7 253.7 396.1 254.1 396.5 254.5 396.7 254.7M398.8 256.8 399.2 257.2 399.6 257.6 400.0 258.0 400.4 258.4 400.9 258.8 401.3 259.2 401.7 259.5 402.1 259.9 402.5 260.3 402.7 260.4M404.9 262.4 405.3 262.7 405.6 263.1 406.0 263.4 406.4 263.7 406.8 264.1 407.1 264.4 407.5 264.8 407.9 265.1 408.3 265.5 408.7 265.9 408.8 266.0M411.0 268.0 411.4 268.4 411.8 268.7 412.2 269.1 412.7 269.5 413.1 269.8 413.5 270.2 414.0 270.6 414.4 270.9 414.8 271.3 415.0 271.4M417.4 273.2 417.8 273.5 418.3 273.8 418.8 274.2 419.2 274.5 419.7 274.8 420.2 275.1 420.6 275.4 421.1 275.7 421.6 276.0 421.8 276.1M424.5 277.7 425.0 278.0 425.4 278.3 425.9 278.6 426.4 278.8 426.9 279.1 427.5 279.4 428.0 279.6 428.5 279.9 429.0 280.1 429.2 280.2" stroke="#00ff00" stroke-width="2.0" fill="none"/>
<path d="M88.9 294.0 89.7 294.0 90.5 294.0 91.3 294.0 92.1 294.0 92.9 294.0 93.7 294.0 94.5 294.0 94.7 294.0M100.6 294.0 101.4 294.0 102.2 294.0 103.0 294.0 103.8 294.0 104.6 294.0 105.4 294.0 106.2 294.0 106.4 294.0M112.3 294.0 113.1 294.0 113.9 294.0 114.7 294.0 115.5 294.0 116.3 294.0 117.1 294.0 117.9 294.0 118.0 294.0M123.9 294.0 124.7 294.0 125.5 294.0 126.3 294.0 127.1 294.0 127.9 294.0 128.7 294.0 129.5 294.0 129.7 294.0M135.6 294.0 136.4 294.0 137.2 294.0 138.0 294.0 138.8 294.0 139.6 294.0 140.4 294.0 141.2 294.0 141.3 294.0M147.2 294.0 148.0 294.0 148.8 294.0 149.6 294.0 150.4 294.0 151.2 294.0 152.0 294.0 152.8 294.0 153.0 294.0M158.9 294.0 159.7 294.0 160.5 294.0 161.3 294.0 162.1 294.0 162.9 294.0 163.7 294.0 164.5 294.0 164.6 294.0M170.5 294.0 171.3 294.0 172.1 294.0 172.9 294.0 173.7 294.0 174.5 294.0 175.3 294.0 176.0 294.0 176.2 294.0M182.1 294.0 182.9 294.0 183.7 294.0 184.5 294.0 185.3 294.0 186.1 294.0 186.9 294.0 187.7 294.0 187.9 294.0M193.8 294.0 194.6 294.0 195.4 294.0 196.2 294.0 197.0 294.0 197.8 294.0 198.6 294.0 199.4 294.0 199.5 294.0M205.4 294.0 206.2 294.0 207.0 294.0 207.8 294.0 208.6 294.0 209.4 294.0 210.2 294.0 211.0 294.0 211.2 294.0M217.1 294.0 217.9 294.0 218.7 294.0 219.5 294.0 220.3 294.0 221.1 294.0 221.9 294.0 222.7 294.0 222.8 294.0M228.7 294.0 229.5 294.0 230.3 294.0 231.1 294.0 231.9 294.0 232.7 294.0 233.5 294.0 234.3 294.0 234.5 294.0M250.7 293.0 251.4 292.9 252.1 292.9 252.8 292.9 253.5 292.9 254.3 292.8 255.0 292.8 255.7 292.8 256.4 292.8 256.5 292.8M262.1 292.6 262.8 292.6 263.5 292.6 264.2 292.6 264.9 292.5 265.6 292.5 266.3 292.5 267.0 292.4 267.7 292.4 267.8 292.4M346.8 249.2 347.4 249.0 348.0 248.9 348.6 248.8 349.3 248.8 350.0 248.7 350.7 248.7 351.4 248.7 352.1 248.7M454.2 292.2 454.9 292.3 455.6 292.3 456.3 292.4 457.0 292.4 457.7 292.5 458.4 292.6 459.1 292.6 459.7 292.6M465.0 293.0 465.7 293.0 466.4 293.0 467.1 293.1 467.8 293.1 468.5 293.1 469.3 293.2 470.0 293.2 470.7 293.2M476.2 293.4 477.0 293.4 477.7 293.4 478.4 293.4 479.1 293.5 479.8 293.5 480.5 293.5 481.2 293.5 481.9 293.5 482.0 293.5M487.8 293.6 488.5 293.6 489.2 293.6 489.9 293.6 490.6 293.6 491.3 293.6 492.0 293.6 492.7 293.6 493.4 293.6M499.4 293.6 500.1 293.6 500.8 293.6 501.5 293.6 502.2 293.6 502.9 293.6 503.6 293.6 504.3 293.6 505.0 293.6 505.1 293.6M511.0 293.6 511.7 293.6 512.5 293.6 513.2 293.6 513.9 293.6 514.6 293.6 515.3 293.6 516.0 293.7 516.7 293.7 516.8 293.7M522.6 293.7 523.3 293.8 524.0 293.8 524.7 293.8 525.4 293.8 526.1 293.8 526.7 293.8 527.4 293.9 528.1 293.9 528.2 293.9" stroke="#0000ff" stroke-width="1.8" fill="none"/><path d="M240.0 293.8 240.7 293.8 241.4 293.7 242.1 293.6 242.8 293.5 243.5 293.4 244.2 293.4 244.9 293.3 245.4 293.3M273.1 292.0 273.8 291.9 274.5 291.8 275.2 291.7 275.9 291.7 276.6 291.6 277.3 291.5 277.9 291.4 278.5 291.3 278.7 291.2M283.2 290.4 283.8 290.3 284.4 290.1 284.9 290.0 285.5 289.9 286.1 289.7 286.7 289.6 287.3 289.4 287.9 289.3 288.5 289.1 288.5 289.1M292.3 287.9 292.8 287.7 293.4 287.5 294.0 287.3 294.5 287.1 295.1 286.9 295.7 286.7 296.2 286.5 296.8 286.3 297.4 286.0 297.4 286.0M406.4 281.7 407.0 281.9 407.6 282.2 408.1 282.4 408.7 282.6 409.3 282.8 409.8 283.0 410.4 283.2 411.0 283.4 411.4 283.6M415.0 284.8 415.6 285.0 416.2 285.1 416.7 285.3 417.3 285.5 417.9 285.7 418.5 285.8 419.1 286.0 419.7 286.2 420.2 286.3M424.1 287.4 424.7 287.5 425.3 287.6 425.9 287.8 426.4 287.9 427.0 288.1 427.6 288.2 428.2 288.3 428.8 288.4 429.4 288.6M433.7 289.4 434.3 289.5 434.8 289.7 435.4 289.8 436.0 289.9 436.6 290.0 437.2 290.1 437.8 290.2 438.4 290.3 439.0 290.4 439.1 290.4M443.7 291.0 444.4 291.1 445.1 291.2 445.8 291.3 446.5 291.4 447.2 291.5 447.9 291.6 448.6 291.6 449.2 291.7" stroke="#0000ff" stroke-width="1.9" fill="none"/><path d="M300.7 284.6 301.2 284.3 301.6 284.1 302.1 283.9 302.6 283.6 303.1 283.4 303.5 283.2 304.0 282.9 304.5 282.7 304.9 282.4 305.4 282.2 305.4 282.1M308.2 280.5 308.7 280.2 309.1 280.0 309.6 279.7 310.0 279.4 310.4 279.1 310.9 278.8 311.3 278.5 311.7 278.2 312.2 277.9 312.6 277.6 312.7 277.6M315.1 275.7 315.5 275.4 315.9 275.0 316.3 274.7 316.7 274.4 317.1 274.0 317.5 273.7 317.9 273.3 318.3 273.0 318.7 272.6 319.1 272.3M321.3 270.3 321.6 269.9 322.0 269.5 322.4 269.1 322.8 268.8 323.2 268.4 323.5 268.0 323.9 267.6 324.3 267.2 324.7 266.9 325.0 266.5M327.0 264.4 327.4 264.0 327.8 263.6 328.1 263.2 328.5 262.8 328.8 262.4 329.2 262.0 329.6 261.7 329.9 261.3 330.3 260.9 330.6 260.5M332.7 258.4 333.0 258.0 333.4 257.6 333.8 257.2 334.1 256.8 334.5 256.4 334.9 256.1 335.2 255.7 335.6 255.3 336.0 255.0 336.4 254.6M338.7 252.8 339.1 252.4 339.5 252.2 339.9 251.9 340.4 251.6 340.9 251.3 341.3 251.1 341.8 250.9 342.3 250.6 342.8 250.4 343.2 250.2M357.0 249.5 357.6 249.7 358.1 249.9 358.7 250.2 359.2 250.4 359.8 250.6 360.3 250.9 360.7 251.1 361.2 251.4 361.6 251.6 362.0 251.8M364.7 253.5 365.1 253.8 365.6 254.1 366.0 254.4 366.4 254.7 366.9 255.0 367.3 255.4 367.7 255.7 368.2 256.0 368.6 256.3 369.1 256.6M371.6 258.3 372.0 258.6 372.4 258.9 372.8 259.2 373.3 259.5 373.7 259.8 374.1 260.1 374.6 260.4 375.0 260.7 375.4 261.1 375.9 261.4 375.9 261.4M378.3 263.2 378.8 263.5 379.2 263.8 379.6 264.2 380.0 264.5 380.4 264.8 380.9 265.1 381.3 265.5 381.7 265.8 382.1 266.1 382.5 266.4M384.9 268.3 385.3 268.6 385.7 268.9 386.1 269.3 386.6 269.6 387.0 269.9 387.4 270.2 387.8 270.6 388.2 270.9 388.7 271.2 389.1 271.5M391.5 273.3 392.0 273.6 392.4 273.9 392.8 274.2 393.3 274.6 393.7 274.8 394.1 275.1 394.6 275.4 395.0 275.7 395.5 276.0 395.9 276.3M398.6 277.9 399.0 278.2 399.5 278.4 400.0 278.7 400.4 278.9 400.9 279.2 401.4 279.4 401.8 279.6 402.3 279.9 402.8 280.1 403.3 280.3" stroke="#0000ff" stroke-width="2.0" fill="none"/>
</g>
<rect x="89.60" y="6.60" width="199.80" height="79.40" fill="#fff" stroke="#000" stroke-width="1"/>
<path d="M107.2 15.50 H125.7" stroke="#000000" stroke-width="1.1"/>
<rect x="113.95" y="13.30" width="4.70" height="4.40" fill="#000000"/>
<text transform="translate(128.00 18.15) scale(1.070 1)" font-size="7.38">HMA-60 Discrete Retardation Spectrum</text>
<path d="M107.2 24.94 H125.7" stroke="#ff0000" stroke-width="1.1"/>
<ellipse cx="116.30" cy="24.94" rx="2.5" ry="2.35" fill="#ff0000"/>
<text transform="translate(128.00 27.59) scale(1.070 1)" font-size="7.38">WMA-60 Discrete Retardation Spectrum</text>
<path d="M107.2 34.38 H125.7" stroke="#00ff00" stroke-width="1.1"/>
<path d="M113.10 36.28 L119.50 36.28 L116.30 31.38 Z" fill="#00ff00"/>
<text transform="translate(128.00 37.03) scale(1.070 1)" font-size="7.38">HMA-C Discrete Retardation Spectrum</text>
<path d="M107.2 43.82 H125.7" stroke="#0000ff" stroke-width="1.1"/>
<path d="M113.10 42.12 L119.50 42.12 L116.30 47.12 Z" fill="#0000ff"/>
<text transform="translate(128.00 46.47) scale(1.070 1)" font-size="7.38">WMA-C Discrete Retardation Spectrum</text>
<path d="M107.1 53.26 H113 M119 53.26 H125" stroke="#000000" stroke-width="2"/>
<text transform="translate(128.00 55.91) scale(1.070 1)" font-size="7.38">HMA-60 Continuous  Retardation Spectrum</text>
<path d="M107.1 62.70 H113 M119 62.70 H125" stroke="#ff0000" stroke-width="2"/>
<text transform="translate(128.00 65.35) scale(1.070 1)" font-size="7.38">WMA-60 Continuous  Retardation Spectrum</text>
<path d="M107.1 72.14 H113 M119 72.14 H125" stroke="#00ff00" stroke-width="2"/>
<text transform="translate(128.00 74.79) scale(1.070 1)" font-size="7.38">HMA-C Continuous  Retardation Spectrum</text>
<path d="M107.1 81.58 H113 M119 81.58 H125" stroke="#0000ff" stroke-width="2"/>
<text transform="translate(128.00 84.23) scale(1.070 1)" font-size="7.38">WMA-C Continuous  Retardation Spectrum</text>
<rect x="90.00" y="7.05" width="444.90" height="308.75" fill="none" stroke="#000" stroke-width="1.55"/>
<text transform="translate(82.70 297.80) scale(1.070 1)" font-size="12.40" text-anchor="end">0.0000</text>
<text transform="translate(82.70 253.62) scale(1.070 1)" font-size="12.40" text-anchor="end">0.0005</text>
<text transform="translate(82.70 209.43) scale(1.070 1)" font-size="12.40" text-anchor="end">0.0010</text>
<text transform="translate(82.70 165.25) scale(1.070 1)" font-size="12.40" text-anchor="end">0.0015</text>
<text transform="translate(82.70 121.06) scale(1.070 1)" font-size="12.40" text-anchor="end">0.0020</text>
<text transform="translate(82.70 76.87) scale(1.070 1)" font-size="12.40" text-anchor="end">0.0025</text>
<text transform="translate(82.70 32.69) scale(1.070 1)" font-size="12.40" text-anchor="end">0.0030</text>
<text transform="translate(77.86 335.1) scale(1.070 1)" font-size="12.40">10</text>
<text transform="translate(91.71 327.9) scale(1.070 1)" font-size="7.20">-15</text>
<text transform="translate(152.01 335.1) scale(1.070 1)" font-size="12.40">10</text>
<text transform="translate(165.86 327.9) scale(1.070 1)" font-size="7.20">-10</text>
<text transform="translate(228.30 335.1) scale(1.070 1)" font-size="12.40">10</text>
<text transform="translate(242.15 327.9) scale(1.070 1)" font-size="7.20">-5</text>
<text transform="translate(303.73 335.1) scale(1.070 1)" font-size="12.40">10</text>
<text transform="translate(317.59 327.9) scale(1.070 1)" font-size="7.20">0</text>
<text transform="translate(377.88 335.1) scale(1.070 1)" font-size="12.40">10</text>
<text transform="translate(392.44 327.9) scale(1.070 1)" font-size="7.20">5</text>
<text transform="translate(449.89 335.1) scale(1.070 1)" font-size="12.40">10</text>
<text transform="translate(464.44 327.9) scale(1.070 1)" font-size="7.20">10</text>
<text transform="translate(524.04 335.1) scale(1.070 1)" font-size="12.40">10</text>
<text transform="translate(538.59 327.9) scale(1.070 1)" font-size="7.20">15</text>
<text x="295.6" y="357" font-size="16">Time (s)</text>
<text transform="translate(22.8 253.3) rotate(-90)" font-size="15.3">Retardation<tspan dx="-1.3"> Spectrum (MPa</tspan><tspan font-size="9" dy="-10">-1</tspan><tspan dy="10" dx="0.3">)</tspan></text>
</svg></body></html>
